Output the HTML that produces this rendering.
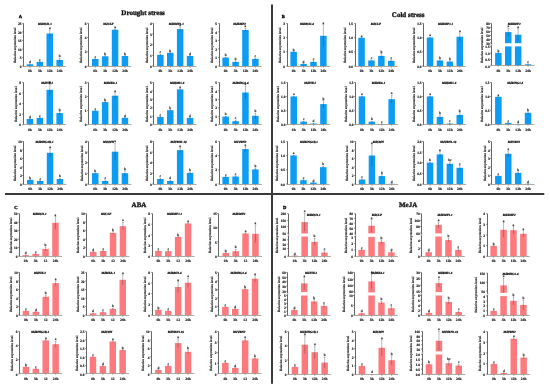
<!DOCTYPE html>
<html><head><meta charset="utf-8"><title>Expression</title>
<style>
html,body{margin:0;padding:0;background:#fff;}
svg{display:block;}
text{font-family:"Liberation Serif",serif;font-weight:bold;fill:#222;text-rendering:geometricPrecision;stroke:#222;stroke-width:0.12px;}
.tl{font-size:3.5px;text-anchor:end;stroke-width:0.16px;}
.xl{font-size:3.6px;text-anchor:middle;stroke-width:0.16px;}
.lt{font-size:3.4px;text-anchor:middle;}
.ti{font-size:3.1px;font-style:italic;text-anchor:middle;stroke-width:0.22px;fill:#111;stroke:#111;}
.yl{font-size:3.4px;text-anchor:middle;}
.hd{font-size:7px;text-anchor:middle;fill:#111;stroke:#111;stroke-width:0.32px;}
.pl{font-size:4.6px;fill:#000;stroke:#000;stroke-width:0.3px;}
</style></head><body>
<svg width="550" height="388" viewBox="0 0 550 388">
<rect width="550" height="388" fill="#fff"/>
<rect x="271" y="4.5" width="2" height="379.3" fill="#3a3a3a"/>
<rect x="5" y="193" width="539.3" height="2" fill="#3a3a3a"/>
<text x="143.1" y="15.4" class="hd">Drought stress</text>
<text x="408.2" y="16.8" class="hd">Cold stress</text>
<text x="139" y="207.2" class="hd">ABA</text>
<text x="408.1" y="207.1" class="hd">MeJA</text>
<text x="18.7" y="18.1" class="pl">A</text>
<text x="281.8" y="18.2" class="pl">B</text>
<text x="14.3" y="208.6" class="pl">C</text>
<text x="283" y="209.3" class="pl">D</text>
<rect x="26.7" y="64.3" width="6.5" height="1.7" fill="#0c9cf3"/>
<rect x="36.6" y="61.9" width="6.5" height="4.1" fill="#0c9cf3"/>
<rect x="46.5" y="33.5" width="6.5" height="32.5" fill="#0c9cf3"/>
<rect x="56.4" y="59.9" width="6.5" height="6.1" fill="#0c9cf3"/>
<path d="M29.95 63.8V64.8M29.05 63.8H30.85" stroke="#333" stroke-width="0.35" fill="none"/>
<path d="M39.85 61.3V62.5M38.95 61.3H40.75" stroke="#333" stroke-width="0.35" fill="none"/>
<path d="M49.75 29.7V37.3M48.85 29.7H50.65" stroke="#333" stroke-width="0.35" fill="none"/>
<path d="M59.65 58.1V61.7M58.75 58.1H60.55" stroke="#333" stroke-width="0.35" fill="none"/>
<path d="M23.5 66.5H66.1" stroke="#aaa098" stroke-width="0.9" fill="none"/>
<path d="M23.5 23.4V66.5" stroke="#555" stroke-width="0.9" fill="none"/>
<path d="M22 23.4H23.5" stroke="#555" stroke-width="0.6"/>
<path d="M22 31.92H23.5" stroke="#555" stroke-width="0.6"/>
<path d="M22 40.44H23.5" stroke="#555" stroke-width="0.6"/>
<path d="M22 48.96H23.5" stroke="#555" stroke-width="0.6"/>
<path d="M22 57.48H23.5" stroke="#555" stroke-width="0.6"/>
<path d="M22 66H23.5" stroke="#555" stroke-width="0.6"/>
<path d="M29.95 66.5V67.7" stroke="#444" stroke-width="0.5"/>
<path d="M39.85 66.5V67.7" stroke="#444" stroke-width="0.5"/>
<path d="M49.75 66.5V67.7" stroke="#444" stroke-width="0.5"/>
<path d="M59.65 66.5V67.7" stroke="#444" stroke-width="0.5"/>
<text x="21.4" y="25.05" class="tl">25</text>
<text x="21.4" y="33.57" class="tl">20</text>
<text x="21.4" y="42.09" class="tl">15</text>
<text x="21.4" y="50.61" class="tl">10</text>
<text x="21.4" y="59.13" class="tl">5</text>
<text x="21.4" y="67.65" class="tl">0</text>
<text x="29.95" y="71.7" class="xl">0h</text>
<text x="39.85" y="71.7" class="xl">3h</text>
<text x="49.75" y="71.7" class="xl">12h</text>
<text x="59.65" y="71.7" class="xl">24h</text>
<text x="29.95" y="63" class="lt">d</text>
<text x="39.85" y="60.5" class="lt">c</text>
<text x="49.75" y="28.9" class="lt">a</text>
<text x="59.65" y="57.3" class="lt">b</text>
<text x="44.8" y="25.2" class="ti">MdMSI1.1</text>
<text transform="translate(15.5 45.2) rotate(-90)" class="yl">Relative expression level</text>
<rect x="92" y="59" width="6.5" height="7" fill="#0c9cf3"/>
<rect x="101.9" y="56.3" width="6.5" height="9.7" fill="#0c9cf3"/>
<rect x="111.8" y="29.7" width="6.5" height="36.3" fill="#0c9cf3"/>
<rect x="121.7" y="56" width="6.5" height="10" fill="#0c9cf3"/>
<path d="M95.25 58.5V59.5M94.35 58.5H96.15" stroke="#333" stroke-width="0.35" fill="none"/>
<path d="M105.15 55.3V57.3M104.25 55.3H106.05" stroke="#333" stroke-width="0.35" fill="none"/>
<path d="M115.05 28.7V30.7M114.15 28.7H115.95" stroke="#333" stroke-width="0.35" fill="none"/>
<path d="M124.95 55.5V56.5M124.05 55.5H125.85" stroke="#333" stroke-width="0.35" fill="none"/>
<path d="M88.5 66.5H131.4" stroke="#aaa098" stroke-width="0.9" fill="none"/>
<path d="M88.5 23.4V66.5" stroke="#555" stroke-width="0.9" fill="none"/>
<path d="M87 23.4H88.5" stroke="#555" stroke-width="0.6"/>
<path d="M87 37.6H88.5" stroke="#555" stroke-width="0.6"/>
<path d="M87 51.8H88.5" stroke="#555" stroke-width="0.6"/>
<path d="M87 66H88.5" stroke="#555" stroke-width="0.6"/>
<path d="M95.25 66.5V67.7" stroke="#444" stroke-width="0.5"/>
<path d="M105.15 66.5V67.7" stroke="#444" stroke-width="0.5"/>
<path d="M115.05 66.5V67.7" stroke="#444" stroke-width="0.5"/>
<path d="M124.95 66.5V67.7" stroke="#444" stroke-width="0.5"/>
<text x="86.4" y="25.05" class="tl">6</text>
<text x="86.4" y="39.25" class="tl">4</text>
<text x="86.4" y="53.45" class="tl">2</text>
<text x="86.4" y="67.65" class="tl">0</text>
<text x="95.25" y="71.7" class="xl">0h</text>
<text x="105.15" y="71.7" class="xl">3h</text>
<text x="115.05" y="71.7" class="xl">12h</text>
<text x="124.95" y="71.7" class="xl">24h</text>
<text x="95.25" y="57.7" class="lt">c</text>
<text x="105.15" y="54.5" class="lt">b</text>
<text x="115.05" y="27.9" class="lt">a</text>
<text x="124.95" y="54.7" class="lt">b</text>
<text x="108.5" y="25.2" class="ti">MdCLF</text>
<text transform="translate(82.25 45.2) rotate(-90)" class="yl">Relative expression level</text>
<rect x="157.1" y="54.9" width="6.5" height="11.1" fill="#0c9cf3"/>
<rect x="167" y="52.8" width="6.5" height="13.2" fill="#0c9cf3"/>
<rect x="176.9" y="29.1" width="6.5" height="36.9" fill="#0c9cf3"/>
<rect x="186.8" y="56" width="6.5" height="10" fill="#0c9cf3"/>
<path d="M160.35 54.1V55.7M159.45 54.1H161.25" stroke="#333" stroke-width="0.35" fill="none"/>
<path d="M170.25 52.3V53.3M169.35 52.3H171.15" stroke="#333" stroke-width="0.35" fill="none"/>
<path d="M180.15 26.9V31.3M179.25 26.9H181.05" stroke="#333" stroke-width="0.35" fill="none"/>
<path d="M190.05 55.4V56.6M189.15 55.4H190.95" stroke="#333" stroke-width="0.35" fill="none"/>
<path d="M153.5 66.5H196.5" stroke="#aaa098" stroke-width="0.9" fill="none"/>
<path d="M153.5 23.4V66.5" stroke="#555" stroke-width="0.9" fill="none"/>
<path d="M152 23.4H153.5" stroke="#555" stroke-width="0.6"/>
<path d="M152 34.05H153.5" stroke="#555" stroke-width="0.6"/>
<path d="M152 44.7H153.5" stroke="#555" stroke-width="0.6"/>
<path d="M152 55.35H153.5" stroke="#555" stroke-width="0.6"/>
<path d="M152 66H153.5" stroke="#555" stroke-width="0.6"/>
<path d="M160.35 66.5V67.7" stroke="#444" stroke-width="0.5"/>
<path d="M170.25 66.5V67.7" stroke="#444" stroke-width="0.5"/>
<path d="M180.15 66.5V67.7" stroke="#444" stroke-width="0.5"/>
<path d="M190.05 66.5V67.7" stroke="#444" stroke-width="0.5"/>
<text x="151.7" y="25.05" class="tl">4</text>
<text x="151.7" y="35.7" class="tl">3</text>
<text x="151.7" y="46.35" class="tl">2</text>
<text x="151.7" y="57" class="tl">1</text>
<text x="151.7" y="67.65" class="tl">0</text>
<text x="160.35" y="71.7" class="xl">0h</text>
<text x="170.25" y="71.7" class="xl">3h</text>
<text x="180.15" y="71.7" class="xl">12h</text>
<text x="190.05" y="71.7" class="xl">24h</text>
<text x="160.35" y="53.3" class="lt">c</text>
<text x="170.25" y="51.5" class="lt">b</text>
<text x="180.15" y="26.1" class="lt">a</text>
<text x="190.05" y="54.6" class="lt">d</text>
<text x="176.2" y="25.2" class="ti">MdEMF1.1</text>
<text transform="translate(147.55 45.2) rotate(-90)" class="yl">Relative expression level</text>
<rect x="222.4" y="57.6" width="6.5" height="8.4" fill="#0c9cf3"/>
<rect x="232.3" y="61.9" width="6.5" height="4.1" fill="#0c9cf3"/>
<rect x="242.2" y="30" width="6.5" height="36" fill="#0c9cf3"/>
<rect x="252.1" y="58.9" width="6.5" height="7.1" fill="#0c9cf3"/>
<path d="M225.65 57V58.2M224.75 57H226.55" stroke="#333" stroke-width="0.35" fill="none"/>
<path d="M235.55 60.7V63.1M234.65 60.7H236.45" stroke="#333" stroke-width="0.35" fill="none"/>
<path d="M245.45 28V32M244.55 28H246.35" stroke="#333" stroke-width="0.35" fill="none"/>
<path d="M255.35 57.9V59.9M254.45 57.9H256.25" stroke="#333" stroke-width="0.35" fill="none"/>
<path d="M219.5 66.5H261.8" stroke="#aaa098" stroke-width="0.9" fill="none"/>
<path d="M219.5 23.4V66.5" stroke="#555" stroke-width="0.9" fill="none"/>
<path d="M218 23.4H219.5" stroke="#555" stroke-width="0.6"/>
<path d="M218 31.92H219.5" stroke="#555" stroke-width="0.6"/>
<path d="M218 40.44H219.5" stroke="#555" stroke-width="0.6"/>
<path d="M218 48.96H219.5" stroke="#555" stroke-width="0.6"/>
<path d="M218 57.48H219.5" stroke="#555" stroke-width="0.6"/>
<path d="M218 66H219.5" stroke="#555" stroke-width="0.6"/>
<path d="M225.65 66.5V67.7" stroke="#444" stroke-width="0.5"/>
<path d="M235.55 66.5V67.7" stroke="#444" stroke-width="0.5"/>
<path d="M245.45 66.5V67.7" stroke="#444" stroke-width="0.5"/>
<path d="M255.35 66.5V67.7" stroke="#444" stroke-width="0.5"/>
<text x="217.05" y="25.05" class="tl">5</text>
<text x="217.05" y="33.57" class="tl">4</text>
<text x="217.05" y="42.09" class="tl">3</text>
<text x="217.05" y="50.61" class="tl">2</text>
<text x="217.05" y="59.13" class="tl">1</text>
<text x="217.05" y="67.65" class="tl">0</text>
<text x="225.65" y="71.7" class="xl">0h</text>
<text x="235.55" y="71.7" class="xl">3h</text>
<text x="245.45" y="71.7" class="xl">12h</text>
<text x="255.35" y="71.7" class="xl">24h</text>
<text x="225.65" y="56.2" class="lt">b</text>
<text x="235.55" y="59.9" class="lt">d</text>
<text x="245.45" y="27.2" class="lt">a</text>
<text x="255.35" y="57.1" class="lt">c</text>
<text x="239.5" y="25.2" class="ti">MdEMF2</text>
<text transform="translate(212.9 45.2) rotate(-90)" class="yl">Relative expression level</text>
<rect x="26.7" y="118.9" width="6.5" height="5.9" fill="#0c9cf3"/>
<rect x="36.6" y="117.9" width="6.5" height="6.9" fill="#0c9cf3"/>
<rect x="46.5" y="89.8" width="6.5" height="35" fill="#0c9cf3"/>
<rect x="56.4" y="113.1" width="6.5" height="11.7" fill="#0c9cf3"/>
<path d="M29.95 118.4V119.4M29.05 118.4H30.85" stroke="#333" stroke-width="0.35" fill="none"/>
<path d="M39.85 117.3V118.5M38.95 117.3H40.75" stroke="#333" stroke-width="0.35" fill="none"/>
<path d="M49.75 84.1V95.5M48.85 84.1H50.65" stroke="#333" stroke-width="0.35" fill="none"/>
<path d="M59.65 111.3V114.9M58.75 111.3H60.55" stroke="#333" stroke-width="0.35" fill="none"/>
<path d="M23.5 124.5H66.1" stroke="#aaa098" stroke-width="0.9" fill="none"/>
<path d="M23.5 82.4V124.5" stroke="#555" stroke-width="0.9" fill="none"/>
<path d="M22 82.4H23.5" stroke="#555" stroke-width="0.6"/>
<path d="M22 93H23.5" stroke="#555" stroke-width="0.6"/>
<path d="M22 103.6H23.5" stroke="#555" stroke-width="0.6"/>
<path d="M22 114.2H23.5" stroke="#555" stroke-width="0.6"/>
<path d="M22 124.8H23.5" stroke="#555" stroke-width="0.6"/>
<path d="M29.95 124.5V125.7" stroke="#444" stroke-width="0.5"/>
<path d="M39.85 124.5V125.7" stroke="#444" stroke-width="0.5"/>
<path d="M49.75 124.5V125.7" stroke="#444" stroke-width="0.5"/>
<path d="M59.65 124.5V125.7" stroke="#444" stroke-width="0.5"/>
<text x="21" y="84.05" class="tl">8</text>
<text x="21" y="94.65" class="tl">6</text>
<text x="21" y="105.25" class="tl">4</text>
<text x="21" y="115.85" class="tl">2</text>
<text x="21" y="126.45" class="tl">0</text>
<text x="29.95" y="130.5" class="xl">0h</text>
<text x="39.85" y="130.5" class="xl">3h</text>
<text x="49.75" y="130.5" class="xl">12h</text>
<text x="59.65" y="130.5" class="xl">24h</text>
<text x="29.95" y="117.6" class="lt">d</text>
<text x="39.85" y="116.5" class="lt">c</text>
<text x="49.75" y="83.3" class="lt">a</text>
<text x="59.65" y="110.5" class="lt">b</text>
<text x="47.2" y="84.2" class="ti">MdFIE.2</text>
<text transform="translate(16.85 104.1) rotate(-90)" class="yl">Relative expression level</text>
<rect x="92" y="110.8" width="6.5" height="14" fill="#0c9cf3"/>
<rect x="101.9" y="102.1" width="6.5" height="22.7" fill="#0c9cf3"/>
<rect x="111.8" y="95.7" width="6.5" height="29.1" fill="#0c9cf3"/>
<rect x="121.7" y="117.8" width="6.5" height="7" fill="#0c9cf3"/>
<path d="M95.25 110.4V111.2M94.35 110.4H96.15" stroke="#333" stroke-width="0.35" fill="none"/>
<path d="M105.15 101.3V102.9M104.25 101.3H106.05" stroke="#333" stroke-width="0.35" fill="none"/>
<path d="M115.05 92.7V98.7M114.15 92.7H115.95" stroke="#333" stroke-width="0.35" fill="none"/>
<path d="M124.95 117.3V118.3M124.05 117.3H125.85" stroke="#333" stroke-width="0.35" fill="none"/>
<path d="M88.5 124.5H131.4" stroke="#aaa098" stroke-width="0.9" fill="none"/>
<path d="M88.5 82.4V124.5" stroke="#555" stroke-width="0.9" fill="none"/>
<path d="M87 82.4H88.5" stroke="#555" stroke-width="0.6"/>
<path d="M87 96.53H88.5" stroke="#555" stroke-width="0.6"/>
<path d="M87 110.67H88.5" stroke="#555" stroke-width="0.6"/>
<path d="M87 124.8H88.5" stroke="#555" stroke-width="0.6"/>
<path d="M95.25 124.5V125.7" stroke="#444" stroke-width="0.5"/>
<path d="M105.15 124.5V125.7" stroke="#444" stroke-width="0.5"/>
<path d="M115.05 124.5V125.7" stroke="#444" stroke-width="0.5"/>
<path d="M124.95 124.5V125.7" stroke="#444" stroke-width="0.5"/>
<text x="86.4" y="84.05" class="tl">3</text>
<text x="86.4" y="98.18" class="tl">2</text>
<text x="86.4" y="112.32" class="tl">1</text>
<text x="86.4" y="126.45" class="tl">0</text>
<text x="95.25" y="130.5" class="xl">0h</text>
<text x="105.15" y="130.5" class="xl">3h</text>
<text x="115.05" y="130.5" class="xl">12h</text>
<text x="124.95" y="130.5" class="xl">24h</text>
<text x="95.25" y="109.6" class="lt">c</text>
<text x="105.15" y="100.5" class="lt">b</text>
<text x="115.05" y="91.9" class="lt">a</text>
<text x="124.95" y="116.5" class="lt">d</text>
<text x="110.5" y="84.2" class="ti">MdMEA.1</text>
<text transform="translate(82.25 104.1) rotate(-90)" class="yl">Relative expression level</text>
<rect x="157.1" y="116.9" width="6.5" height="7.9" fill="#0c9cf3"/>
<rect x="167" y="110.2" width="6.5" height="14.6" fill="#0c9cf3"/>
<rect x="176.9" y="89.4" width="6.5" height="35.4" fill="#0c9cf3"/>
<rect x="186.8" y="117.9" width="6.5" height="6.9" fill="#0c9cf3"/>
<path d="M160.35 116.5V117.3M159.45 116.5H161.25" stroke="#333" stroke-width="0.35" fill="none"/>
<path d="M170.25 109.8V110.6M169.35 109.8H171.15" stroke="#333" stroke-width="0.35" fill="none"/>
<path d="M180.15 88.4V90.4M179.25 88.4H181.05" stroke="#333" stroke-width="0.35" fill="none"/>
<path d="M190.05 117.4V118.4M189.15 117.4H190.95" stroke="#333" stroke-width="0.35" fill="none"/>
<path d="M153.5 124.5H196.5" stroke="#aaa098" stroke-width="0.9" fill="none"/>
<path d="M153.5 82.4V124.5" stroke="#555" stroke-width="0.9" fill="none"/>
<path d="M152 82.4H153.5" stroke="#555" stroke-width="0.6"/>
<path d="M152 90.88H153.5" stroke="#555" stroke-width="0.6"/>
<path d="M152 99.36H153.5" stroke="#555" stroke-width="0.6"/>
<path d="M152 107.84H153.5" stroke="#555" stroke-width="0.6"/>
<path d="M152 116.32H153.5" stroke="#555" stroke-width="0.6"/>
<path d="M152 124.8H153.5" stroke="#555" stroke-width="0.6"/>
<path d="M160.35 124.5V125.7" stroke="#444" stroke-width="0.5"/>
<path d="M170.25 124.5V125.7" stroke="#444" stroke-width="0.5"/>
<path d="M180.15 124.5V125.7" stroke="#444" stroke-width="0.5"/>
<path d="M190.05 124.5V125.7" stroke="#444" stroke-width="0.5"/>
<text x="151.7" y="84.05" class="tl">5</text>
<text x="151.7" y="92.53" class="tl">4</text>
<text x="151.7" y="101.01" class="tl">3</text>
<text x="151.7" y="109.49" class="tl">2</text>
<text x="151.7" y="117.97" class="tl">1</text>
<text x="151.7" y="126.45" class="tl">0</text>
<text x="160.35" y="130.5" class="xl">0h</text>
<text x="170.25" y="130.5" class="xl">3h</text>
<text x="180.15" y="130.5" class="xl">12h</text>
<text x="190.05" y="130.5" class="xl">24h</text>
<text x="160.35" y="115.7" class="lt">c</text>
<text x="170.25" y="109" class="lt">b</text>
<text x="180.15" y="87.6" class="lt">a</text>
<text x="190.05" y="116.6" class="lt">d</text>
<text x="177.1" y="84.2" class="ti">MdBMI1.4</text>
<text transform="translate(147.55 104.1) rotate(-90)" class="yl">Relative expression level</text>
<rect x="222.4" y="116.6" width="6.5" height="8.2" fill="#0c9cf3"/>
<rect x="232.3" y="121.2" width="6.5" height="3.6" fill="#0c9cf3"/>
<rect x="242.2" y="92.5" width="6.5" height="32.3" fill="#0c9cf3"/>
<rect x="252.1" y="115.8" width="6.5" height="9" fill="#0c9cf3"/>
<path d="M225.65 116.2V117M224.75 116.2H226.55" stroke="#333" stroke-width="0.35" fill="none"/>
<path d="M235.55 120V122.4M234.65 120H236.45" stroke="#333" stroke-width="0.35" fill="none"/>
<path d="M245.45 86V99M244.55 86H246.35" stroke="#333" stroke-width="0.35" fill="none"/>
<path d="M255.35 113.1V118.5M254.45 113.1H256.25" stroke="#333" stroke-width="0.35" fill="none"/>
<path d="M219.5 124.5H261.8" stroke="#aaa098" stroke-width="0.9" fill="none"/>
<path d="M219.5 82.4V124.5" stroke="#555" stroke-width="0.9" fill="none"/>
<path d="M218 82.4H219.5" stroke="#555" stroke-width="0.6"/>
<path d="M218 90.88H219.5" stroke="#555" stroke-width="0.6"/>
<path d="M218 99.36H219.5" stroke="#555" stroke-width="0.6"/>
<path d="M218 107.84H219.5" stroke="#555" stroke-width="0.6"/>
<path d="M218 116.32H219.5" stroke="#555" stroke-width="0.6"/>
<path d="M218 124.8H219.5" stroke="#555" stroke-width="0.6"/>
<path d="M225.65 124.5V125.7" stroke="#444" stroke-width="0.5"/>
<path d="M235.55 124.5V125.7" stroke="#444" stroke-width="0.5"/>
<path d="M245.45 124.5V125.7" stroke="#444" stroke-width="0.5"/>
<path d="M255.35 124.5V125.7" stroke="#444" stroke-width="0.5"/>
<text x="217.05" y="84.05" class="tl">5</text>
<text x="217.05" y="92.53" class="tl">4</text>
<text x="217.05" y="101.01" class="tl">3</text>
<text x="217.05" y="109.49" class="tl">2</text>
<text x="217.05" y="117.97" class="tl">1</text>
<text x="217.05" y="126.45" class="tl">0</text>
<text x="225.65" y="130.5" class="xl">0h</text>
<text x="235.55" y="130.5" class="xl">3h</text>
<text x="245.45" y="130.5" class="xl">12h</text>
<text x="255.35" y="130.5" class="xl">24h</text>
<text x="225.65" y="115.4" class="lt">b</text>
<text x="235.55" y="119.2" class="lt">c</text>
<text x="245.45" y="85.2" class="lt">a</text>
<text x="255.35" y="112.3" class="lt">b</text>
<text x="240.5" y="84.2" class="ti">MdRING1.4</text>
<text transform="translate(212.9 104.1) rotate(-90)" class="yl">Relative expression level</text>
<rect x="27" y="179.9" width="6.5" height="4.1" fill="#0c9cf3"/>
<rect x="36.9" y="181" width="6.5" height="3" fill="#0c9cf3"/>
<rect x="46.8" y="152.8" width="6.5" height="31.2" fill="#0c9cf3"/>
<rect x="56.7" y="179" width="6.5" height="5" fill="#0c9cf3"/>
<path d="M30.25 179.5V180.3M29.35 179.5H31.15" stroke="#333" stroke-width="0.35" fill="none"/>
<path d="M40.15 180.5V181.5M39.25 180.5H41.05" stroke="#333" stroke-width="0.35" fill="none"/>
<path d="M50.05 148.8V156.8M49.15 148.8H50.95" stroke="#333" stroke-width="0.35" fill="none"/>
<path d="M59.95 178.2V179.8M59.05 178.2H60.85" stroke="#333" stroke-width="0.35" fill="none"/>
<path d="M23.5 184.5H66.4" stroke="#aaa098" stroke-width="0.9" fill="none"/>
<path d="M23.5 141.4V184.5" stroke="#555" stroke-width="0.9" fill="none"/>
<path d="M22 141.4H23.5" stroke="#555" stroke-width="0.6"/>
<path d="M22 149.92H23.5" stroke="#555" stroke-width="0.6"/>
<path d="M22 158.44H23.5" stroke="#555" stroke-width="0.6"/>
<path d="M22 166.96H23.5" stroke="#555" stroke-width="0.6"/>
<path d="M22 175.48H23.5" stroke="#555" stroke-width="0.6"/>
<path d="M22 184H23.5" stroke="#555" stroke-width="0.6"/>
<path d="M30.25 184.5V185.7" stroke="#444" stroke-width="0.5"/>
<path d="M40.15 184.5V185.7" stroke="#444" stroke-width="0.5"/>
<path d="M50.05 184.5V185.7" stroke="#444" stroke-width="0.5"/>
<path d="M59.95 184.5V185.7" stroke="#444" stroke-width="0.5"/>
<text x="21.8" y="143.05" class="tl">10</text>
<text x="21.8" y="151.57" class="tl">8</text>
<text x="21.8" y="160.09" class="tl">6</text>
<text x="21.8" y="168.61" class="tl">4</text>
<text x="21.8" y="177.13" class="tl">2</text>
<text x="21.8" y="185.65" class="tl">0</text>
<text x="30.25" y="189.7" class="xl">0h</text>
<text x="40.15" y="189.7" class="xl">3h</text>
<text x="50.05" y="189.7" class="xl">12h</text>
<text x="59.95" y="189.7" class="xl">24h</text>
<text x="30.25" y="178.7" class="lt">b</text>
<text x="40.15" y="179.7" class="lt">c</text>
<text x="50.05" y="148" class="lt">a</text>
<text x="59.95" y="177.4" class="lt">b</text>
<text x="44.5" y="143.2" class="ti">MdRING1B.1</text>
<text transform="translate(15.9 163.2) rotate(-90)" class="yl">Relative expression level</text>
<rect x="92" y="173.2" width="6.5" height="10.8" fill="#0c9cf3"/>
<rect x="101.9" y="181" width="6.5" height="3" fill="#0c9cf3"/>
<rect x="111.8" y="151.7" width="6.5" height="32.3" fill="#0c9cf3"/>
<rect x="121.7" y="173.2" width="6.5" height="10.8" fill="#0c9cf3"/>
<path d="M95.25 172.8V173.6M94.35 172.8H96.15" stroke="#333" stroke-width="0.35" fill="none"/>
<path d="M105.15 179.8V182.2M104.25 179.8H106.05" stroke="#333" stroke-width="0.35" fill="none"/>
<path d="M115.05 143V160.4M114.15 143H115.95" stroke="#333" stroke-width="0.35" fill="none"/>
<path d="M124.95 170.7V175.7M124.05 170.7H125.85" stroke="#333" stroke-width="0.35" fill="none"/>
<path d="M88.5 184.5H131.4" stroke="#aaa098" stroke-width="0.9" fill="none"/>
<path d="M88.5 141.4V184.5" stroke="#555" stroke-width="0.9" fill="none"/>
<path d="M87 141.4H88.5" stroke="#555" stroke-width="0.6"/>
<path d="M87 152.05H88.5" stroke="#555" stroke-width="0.6"/>
<path d="M87 162.7H88.5" stroke="#555" stroke-width="0.6"/>
<path d="M87 173.35H88.5" stroke="#555" stroke-width="0.6"/>
<path d="M87 184H88.5" stroke="#555" stroke-width="0.6"/>
<path d="M95.25 184.5V185.7" stroke="#444" stroke-width="0.5"/>
<path d="M105.15 184.5V185.7" stroke="#444" stroke-width="0.5"/>
<path d="M115.05 184.5V185.7" stroke="#444" stroke-width="0.5"/>
<path d="M124.95 184.5V185.7" stroke="#444" stroke-width="0.5"/>
<text x="86.8" y="143.05" class="tl">4</text>
<text x="86.8" y="153.7" class="tl">3</text>
<text x="86.8" y="164.35" class="tl">2</text>
<text x="86.8" y="175" class="tl">1</text>
<text x="86.8" y="185.65" class="tl">0</text>
<text x="95.25" y="189.7" class="xl">0h</text>
<text x="105.15" y="189.7" class="xl">3h</text>
<text x="115.05" y="189.7" class="xl">12h</text>
<text x="124.95" y="189.7" class="xl">24h</text>
<text x="95.25" y="172" class="lt">b</text>
<text x="105.15" y="179" class="lt">c</text>
<text x="115.05" y="142.2" class="lt">a</text>
<text x="124.95" y="169.9" class="lt">b</text>
<text x="108.5" y="143.2" class="ti">MdSWN</text>
<text transform="translate(82.65 163.2) rotate(-90)" class="yl">Relative expression level</text>
<rect x="157.1" y="179" width="6.5" height="5" fill="#0c9cf3"/>
<rect x="167" y="181" width="6.5" height="3" fill="#0c9cf3"/>
<rect x="176.9" y="150.1" width="6.5" height="33.9" fill="#0c9cf3"/>
<rect x="186.8" y="172.9" width="6.5" height="11.1" fill="#0c9cf3"/>
<path d="M160.35 178.2V179.8M159.45 178.2H161.25" stroke="#333" stroke-width="0.35" fill="none"/>
<path d="M170.25 180.1V181.9M169.35 180.1H171.15" stroke="#333" stroke-width="0.35" fill="none"/>
<path d="M180.15 147.6V152.6M179.25 147.6H181.05" stroke="#333" stroke-width="0.35" fill="none"/>
<path d="M190.05 171.9V173.9M189.15 171.9H190.95" stroke="#333" stroke-width="0.35" fill="none"/>
<path d="M153.5 184.5H196.5" stroke="#aaa098" stroke-width="0.9" fill="none"/>
<path d="M153.5 141.4V184.5" stroke="#555" stroke-width="0.9" fill="none"/>
<path d="M152 141.4H153.5" stroke="#555" stroke-width="0.6"/>
<path d="M152 152.05H153.5" stroke="#555" stroke-width="0.6"/>
<path d="M152 162.7H153.5" stroke="#555" stroke-width="0.6"/>
<path d="M152 173.35H153.5" stroke="#555" stroke-width="0.6"/>
<path d="M152 184H153.5" stroke="#555" stroke-width="0.6"/>
<path d="M160.35 184.5V185.7" stroke="#444" stroke-width="0.5"/>
<path d="M170.25 184.5V185.7" stroke="#444" stroke-width="0.5"/>
<path d="M180.15 184.5V185.7" stroke="#444" stroke-width="0.5"/>
<path d="M190.05 184.5V185.7" stroke="#444" stroke-width="0.5"/>
<text x="151.7" y="143.05" class="tl">8</text>
<text x="151.7" y="153.7" class="tl">6</text>
<text x="151.7" y="164.35" class="tl">4</text>
<text x="151.7" y="175" class="tl">2</text>
<text x="151.7" y="185.65" class="tl">0</text>
<text x="160.35" y="189.7" class="xl">0h</text>
<text x="170.25" y="189.7" class="xl">3h</text>
<text x="180.15" y="189.7" class="xl">12h</text>
<text x="190.05" y="189.7" class="xl">24h</text>
<text x="160.35" y="177.4" class="lt">c</text>
<text x="170.25" y="179.3" class="lt">d</text>
<text x="180.15" y="146.8" class="lt">a</text>
<text x="190.05" y="171.1" class="lt">b</text>
<text x="178.5" y="143.2" class="ti">MdVRN1.19</text>
<text transform="translate(147.55 163.2) rotate(-90)" class="yl">Relative expression level</text>
<rect x="222.4" y="176.9" width="6.5" height="7.1" fill="#0c9cf3"/>
<rect x="232.3" y="176.5" width="6.5" height="7.5" fill="#0c9cf3"/>
<rect x="242.2" y="149.1" width="6.5" height="34.9" fill="#0c9cf3"/>
<rect x="252.1" y="169.4" width="6.5" height="14.6" fill="#0c9cf3"/>
<path d="M225.65 176.3V177.5M224.75 176.3H226.55" stroke="#333" stroke-width="0.35" fill="none"/>
<path d="M235.55 175.7V177.3M234.65 175.7H236.45" stroke="#333" stroke-width="0.35" fill="none"/>
<path d="M245.45 146.6V151.6M244.55 146.6H246.35" stroke="#333" stroke-width="0.35" fill="none"/>
<path d="M255.35 167.9V170.9M254.45 167.9H256.25" stroke="#333" stroke-width="0.35" fill="none"/>
<path d="M219.5 184.5H261.8" stroke="#aaa098" stroke-width="0.9" fill="none"/>
<path d="M219.5 141.4V184.5" stroke="#555" stroke-width="0.9" fill="none"/>
<path d="M218 141.4H219.5" stroke="#555" stroke-width="0.6"/>
<path d="M218 155.6H219.5" stroke="#555" stroke-width="0.6"/>
<path d="M218 169.8H219.5" stroke="#555" stroke-width="0.6"/>
<path d="M218 184H219.5" stroke="#555" stroke-width="0.6"/>
<path d="M225.65 184.5V185.7" stroke="#444" stroke-width="0.5"/>
<path d="M235.55 184.5V185.7" stroke="#444" stroke-width="0.5"/>
<path d="M245.45 184.5V185.7" stroke="#444" stroke-width="0.5"/>
<path d="M255.35 184.5V185.7" stroke="#444" stroke-width="0.5"/>
<text x="217.05" y="143.05" class="tl">6</text>
<text x="217.05" y="157.25" class="tl">4</text>
<text x="217.05" y="171.45" class="tl">2</text>
<text x="217.05" y="185.65" class="tl">0</text>
<text x="225.65" y="189.7" class="xl">0h</text>
<text x="235.55" y="189.7" class="xl">3h</text>
<text x="245.45" y="189.7" class="xl">12h</text>
<text x="255.35" y="189.7" class="xl">24h</text>
<text x="225.65" y="175.5" class="lt">c</text>
<text x="235.55" y="174.9" class="lt">c</text>
<text x="245.45" y="145.8" class="lt">a</text>
<text x="255.35" y="167.1" class="lt">b</text>
<text x="240.2" y="143.2" class="ti">MdVRN2</text>
<text transform="translate(212.9 163.2) rotate(-90)" class="yl">Relative expression level</text>
<rect x="290.4" y="51.8" width="6.5" height="14.2" fill="#0c9cf3"/>
<rect x="300.3" y="63.9" width="6.5" height="2.1" fill="#0c9cf3"/>
<rect x="310.2" y="61.9" width="6.5" height="4.1" fill="#0c9cf3"/>
<rect x="320.1" y="35.8" width="6.5" height="30.2" fill="#0c9cf3"/>
<path d="M293.65 51.4V52.2M292.75 51.4H294.55" stroke="#333" stroke-width="0.35" fill="none"/>
<path d="M303.55 63.3V64.5M302.65 63.3H304.45" stroke="#333" stroke-width="0.35" fill="none"/>
<path d="M313.45 60.7V63.1M312.55 60.7H314.35" stroke="#333" stroke-width="0.35" fill="none"/>
<path d="M323.35 24.4V47.2M322.45 24.4H324.25" stroke="#333" stroke-width="0.35" fill="none"/>
<path d="M287.5 66.5H329.8" stroke="#aaa098" stroke-width="0.9" fill="none"/>
<path d="M287.5 23.4V66.5" stroke="#555" stroke-width="0.9" fill="none"/>
<path d="M286 23.4H287.5" stroke="#555" stroke-width="0.6"/>
<path d="M286 37.6H287.5" stroke="#555" stroke-width="0.6"/>
<path d="M286 51.8H287.5" stroke="#555" stroke-width="0.6"/>
<path d="M286 66H287.5" stroke="#555" stroke-width="0.6"/>
<path d="M293.65 66.5V67.7" stroke="#444" stroke-width="0.5"/>
<path d="M303.55 66.5V67.7" stroke="#444" stroke-width="0.5"/>
<path d="M313.45 66.5V67.7" stroke="#444" stroke-width="0.5"/>
<path d="M323.35 66.5V67.7" stroke="#444" stroke-width="0.5"/>
<text x="285.1" y="25.05" class="tl">3</text>
<text x="285.1" y="39.25" class="tl">2</text>
<text x="285.1" y="53.45" class="tl">1</text>
<text x="285.1" y="67.65" class="tl">0</text>
<text x="293.65" y="71.7" class="xl">0h</text>
<text x="303.55" y="71.7" class="xl">3h</text>
<text x="313.45" y="71.7" class="xl">12h</text>
<text x="323.35" y="71.7" class="xl">24h</text>
<text x="293.65" y="50.6" class="lt">b</text>
<text x="303.55" y="62.5" class="lt">d</text>
<text x="313.45" y="59.9" class="lt">c</text>
<text x="323.35" y="23.6" class="lt">a</text>
<text x="306.9" y="25.2" class="ti">MdMSI1.4</text>
<text transform="translate(280.95 45.2) rotate(-90)" class="yl">Relative expression level</text>
<rect x="358.3" y="37.8" width="6.5" height="28.2" fill="#0c9cf3"/>
<rect x="368.2" y="60.5" width="6.5" height="5.5" fill="#0c9cf3"/>
<rect x="378.1" y="55.9" width="6.5" height="10.1" fill="#0c9cf3"/>
<rect x="388" y="60.8" width="6.5" height="5.2" fill="#0c9cf3"/>
<path d="M361.55 37.4V38.2M360.65 37.4H362.45" stroke="#333" stroke-width="0.35" fill="none"/>
<path d="M371.45 60V61M370.55 60H372.35" stroke="#333" stroke-width="0.35" fill="none"/>
<path d="M381.35 53.4V58.4M380.45 53.4H382.25" stroke="#333" stroke-width="0.35" fill="none"/>
<path d="M391.25 59.6V62M390.35 59.6H392.15" stroke="#333" stroke-width="0.35" fill="none"/>
<path d="M355.5 66.5H397.7" stroke="#aaa098" stroke-width="0.9" fill="none"/>
<path d="M355.5 23.4V66.5" stroke="#555" stroke-width="0.9" fill="none"/>
<path d="M354 23.4H355.5" stroke="#555" stroke-width="0.6"/>
<path d="M354 37.6H355.5" stroke="#555" stroke-width="0.6"/>
<path d="M354 51.8H355.5" stroke="#555" stroke-width="0.6"/>
<path d="M354 66H355.5" stroke="#555" stroke-width="0.6"/>
<path d="M361.55 66.5V67.7" stroke="#444" stroke-width="0.5"/>
<path d="M371.45 66.5V67.7" stroke="#444" stroke-width="0.5"/>
<path d="M381.35 66.5V67.7" stroke="#444" stroke-width="0.5"/>
<path d="M391.25 66.5V67.7" stroke="#444" stroke-width="0.5"/>
<text x="353" y="25.05" class="tl">1.5</text>
<text x="353" y="39.25" class="tl">1.0</text>
<text x="353" y="53.45" class="tl">0.5</text>
<text x="353" y="67.65" class="tl">0.0</text>
<text x="361.55" y="71.7" class="xl">0h</text>
<text x="371.45" y="71.7" class="xl">3h</text>
<text x="381.35" y="71.7" class="xl">12h</text>
<text x="391.25" y="71.7" class="xl">24h</text>
<text x="361.55" y="36.6" class="lt">a</text>
<text x="371.45" y="59.2" class="lt">c</text>
<text x="381.35" y="52.6" class="lt">b</text>
<text x="391.25" y="58.8" class="lt">c</text>
<text x="375.9" y="25.2" class="ti">MdCLF</text>
<text transform="translate(346.22 45.2) rotate(-90)" class="yl">Relative expression level</text>
<rect x="426.8" y="37.5" width="6.5" height="28.5" fill="#0c9cf3"/>
<rect x="436.7" y="60.5" width="6.5" height="5.5" fill="#0c9cf3"/>
<rect x="446.6" y="61.6" width="6.5" height="4.4" fill="#0c9cf3"/>
<rect x="456.5" y="36.7" width="6.5" height="29.3" fill="#0c9cf3"/>
<path d="M430.05 37.1V37.9M429.15 37.1H430.95" stroke="#333" stroke-width="0.35" fill="none"/>
<path d="M439.95 59.9V61.1M439.05 59.9H440.85" stroke="#333" stroke-width="0.35" fill="none"/>
<path d="M449.85 60.8V62.4M448.95 60.8H450.75" stroke="#333" stroke-width="0.35" fill="none"/>
<path d="M459.75 32.7V40.7M458.85 32.7H460.65" stroke="#333" stroke-width="0.35" fill="none"/>
<path d="M423.5 66.5H466.2" stroke="#aaa098" stroke-width="0.9" fill="none"/>
<path d="M423.5 23.4V66.5" stroke="#555" stroke-width="0.9" fill="none"/>
<path d="M422 23.4H423.5" stroke="#555" stroke-width="0.6"/>
<path d="M422 37.6H423.5" stroke="#555" stroke-width="0.6"/>
<path d="M422 51.8H423.5" stroke="#555" stroke-width="0.6"/>
<path d="M422 66H423.5" stroke="#555" stroke-width="0.6"/>
<path d="M430.05 66.5V67.7" stroke="#444" stroke-width="0.5"/>
<path d="M439.95 66.5V67.7" stroke="#444" stroke-width="0.5"/>
<path d="M449.85 66.5V67.7" stroke="#444" stroke-width="0.5"/>
<path d="M459.75 66.5V67.7" stroke="#444" stroke-width="0.5"/>
<text x="421.5" y="25.05" class="tl">1.5</text>
<text x="421.5" y="39.25" class="tl">1.0</text>
<text x="421.5" y="53.45" class="tl">0.5</text>
<text x="421.5" y="67.65" class="tl">0.0</text>
<text x="430.05" y="71.7" class="xl">0h</text>
<text x="439.95" y="71.7" class="xl">3h</text>
<text x="449.85" y="71.7" class="xl">12h</text>
<text x="459.75" y="71.7" class="xl">24h</text>
<text x="430.05" y="36.3" class="lt">a</text>
<text x="439.95" y="59.1" class="lt">b</text>
<text x="449.85" y="60" class="lt">b</text>
<text x="459.75" y="31.9" class="lt">a</text>
<text x="445.5" y="25.2" class="ti">MdEMF1.1</text>
<text transform="translate(414.72 45.2) rotate(-90)" class="yl">Relative expression level</text>
<rect x="495.1" y="52.9" width="6.5" height="13" fill="#0c9cf3"/>
<rect x="505" y="32.1" width="6.5" height="33.8" fill="#0c9cf3"/>
<rect x="514.9" y="34.7" width="6.5" height="31.2" fill="#0c9cf3"/>
<rect x="524.8" y="64.3" width="6.5" height="1.6" fill="#0c9cf3"/>
<rect x="504.7" y="43.2" width="7.1" height="3.2" fill="#fff"/>
<rect x="514.6" y="43.2" width="7.1" height="3.2" fill="#fff"/>
<path d="M498.35 52.5V53.3M497.45 52.5H499.25" stroke="#333" stroke-width="0.35" fill="none"/>
<path d="M508.25 28.1V36.1M507.35 28.1H509.15" stroke="#333" stroke-width="0.35" fill="none"/>
<path d="M518.15 28.7V40.7M517.25 28.7H519.05" stroke="#333" stroke-width="0.35" fill="none"/>
<path d="M528.05 63.8V64.8M527.15 63.8H528.95" stroke="#333" stroke-width="0.35" fill="none"/>
<path d="M491.5 65.5H534.5" stroke="#aaa098" stroke-width="0.9" fill="none"/>
<path d="M491.5 23.4V65.5" stroke="#555" stroke-width="0.9" fill="none"/>
<path d="M490 23.4H491.5" stroke="#555" stroke-width="0.6"/>
<path d="M490 27.3H491.5" stroke="#555" stroke-width="0.6"/>
<path d="M490 31.4H491.5" stroke="#555" stroke-width="0.6"/>
<path d="M490 35.5H491.5" stroke="#555" stroke-width="0.6"/>
<path d="M490 39.5H491.5" stroke="#555" stroke-width="0.6"/>
<path d="M490 43H491.5" stroke="#555" stroke-width="0.6"/>
<path d="M490 46.7H491.5" stroke="#555" stroke-width="0.6"/>
<path d="M490 53.1H491.5" stroke="#555" stroke-width="0.6"/>
<path d="M490 59.5H491.5" stroke="#555" stroke-width="0.6"/>
<path d="M490 65.9H491.5" stroke="#555" stroke-width="0.6"/>
<path d="M498.35 65.5V66.7" stroke="#444" stroke-width="0.5"/>
<path d="M508.25 65.5V66.7" stroke="#444" stroke-width="0.5"/>
<path d="M518.15 65.5V66.7" stroke="#444" stroke-width="0.5"/>
<path d="M528.05 65.5V66.7" stroke="#444" stroke-width="0.5"/>
<rect x="490.5" y="44.2" width="2" height="1.2" fill="#fff"/>
<path d="M490.6 44.6L492.4 43.6M490.6 46L492.4 45" stroke="#555" stroke-width="0.4"/>
<text x="489.7" y="25.05" class="tl">80</text>
<text x="489.7" y="28.95" class="tl">70</text>
<text x="489.7" y="33.05" class="tl">60</text>
<text x="489.7" y="37.15" class="tl">50</text>
<text x="489.7" y="41.15" class="tl">40</text>
<text x="489.7" y="44.65" class="tl">30</text>
<text x="489.7" y="48.35" class="tl">1.5</text>
<text x="489.7" y="54.75" class="tl">1.0</text>
<text x="489.7" y="61.15" class="tl">0.5</text>
<text x="489.7" y="67.55" class="tl">0.0</text>
<text x="498.35" y="71.6" class="xl">0h</text>
<text x="508.25" y="71.6" class="xl">3h</text>
<text x="518.15" y="71.6" class="xl">12h</text>
<text x="528.05" y="71.6" class="xl">24h</text>
<text x="498.35" y="51.7" class="lt">b</text>
<text x="508.25" y="27.3" class="lt">a</text>
<text x="518.15" y="27.9" class="lt">a</text>
<text x="528.05" y="63" class="lt">c</text>
<text x="514.1" y="25.2" class="ti">MdEMF2</text>
<text transform="translate(482.92 45.15) rotate(-90)" class="yl">Relative expression level</text>
<rect x="290.5" y="96.5" width="6.5" height="28.3" fill="#0c9cf3"/>
<rect x="300.4" y="121.6" width="6.5" height="3.2" fill="#0c9cf3"/>
<rect x="310.3" y="123.6" width="6.5" height="1.2" fill="#0c9cf3"/>
<rect x="320.2" y="104.1" width="6.5" height="20.7" fill="#0c9cf3"/>
<path d="M293.75 96.1V96.9M292.85 96.1H294.65" stroke="#333" stroke-width="0.35" fill="none"/>
<path d="M303.65 121.1V122.1M302.75 121.1H304.55" stroke="#333" stroke-width="0.35" fill="none"/>
<path d="M313.55 123.2V124M312.65 123.2H314.45" stroke="#333" stroke-width="0.35" fill="none"/>
<path d="M323.45 100.6V107.6M322.55 100.6H324.35" stroke="#333" stroke-width="0.35" fill="none"/>
<path d="M287.5 124.5H329.9" stroke="#aaa098" stroke-width="0.9" fill="none"/>
<path d="M287.5 82.4V124.5" stroke="#555" stroke-width="0.9" fill="none"/>
<path d="M286 82.4H287.5" stroke="#555" stroke-width="0.6"/>
<path d="M286 96.53H287.5" stroke="#555" stroke-width="0.6"/>
<path d="M286 110.67H287.5" stroke="#555" stroke-width="0.6"/>
<path d="M286 124.8H287.5" stroke="#555" stroke-width="0.6"/>
<path d="M293.75 124.5V125.7" stroke="#444" stroke-width="0.5"/>
<path d="M303.65 124.5V125.7" stroke="#444" stroke-width="0.5"/>
<path d="M313.55 124.5V125.7" stroke="#444" stroke-width="0.5"/>
<path d="M323.45 124.5V125.7" stroke="#444" stroke-width="0.5"/>
<text x="285.4" y="84.05" class="tl">1.5</text>
<text x="285.4" y="98.18" class="tl">1.0</text>
<text x="285.4" y="112.32" class="tl">0.5</text>
<text x="285.4" y="126.45" class="tl">0.0</text>
<text x="293.75" y="130.5" class="xl">0h</text>
<text x="303.65" y="130.5" class="xl">3h</text>
<text x="313.55" y="130.5" class="xl">12h</text>
<text x="323.45" y="130.5" class="xl">24h</text>
<text x="293.75" y="95.3" class="lt">a</text>
<text x="303.65" y="120.3" class="lt">c</text>
<text x="313.55" y="122.4" class="lt">d</text>
<text x="323.45" y="99.8" class="lt">b</text>
<text x="310.2" y="84.2" class="ti">MdFIE.2</text>
<text transform="translate(278.62 104.1) rotate(-90)" class="yl">Relative expression level</text>
<rect x="358.7" y="96.4" width="6.5" height="28.4" fill="#0c9cf3"/>
<rect x="368.6" y="121.7" width="6.5" height="3.1" fill="#0c9cf3"/>
<rect x="378.5" y="124" width="6.5" height="0.8" fill="#0c9cf3"/>
<rect x="388.4" y="99.2" width="6.5" height="25.6" fill="#0c9cf3"/>
<path d="M361.95 96V96.8M361.05 96H362.85" stroke="#333" stroke-width="0.35" fill="none"/>
<path d="M371.85 121.2V122.2M370.95 121.2H372.75" stroke="#333" stroke-width="0.35" fill="none"/>
<path d="M381.75 123.7V124.3M380.85 123.7H382.65" stroke="#333" stroke-width="0.35" fill="none"/>
<path d="M391.65 95.2V103.2M390.75 95.2H392.55" stroke="#333" stroke-width="0.35" fill="none"/>
<path d="M355.5 124.5H398.1" stroke="#aaa098" stroke-width="0.9" fill="none"/>
<path d="M355.5 82.4V124.5" stroke="#555" stroke-width="0.9" fill="none"/>
<path d="M354 82.4H355.5" stroke="#555" stroke-width="0.6"/>
<path d="M354 96.53H355.5" stroke="#555" stroke-width="0.6"/>
<path d="M354 110.67H355.5" stroke="#555" stroke-width="0.6"/>
<path d="M354 124.8H355.5" stroke="#555" stroke-width="0.6"/>
<path d="M361.95 124.5V125.7" stroke="#444" stroke-width="0.5"/>
<path d="M371.85 124.5V125.7" stroke="#444" stroke-width="0.5"/>
<path d="M381.75 124.5V125.7" stroke="#444" stroke-width="0.5"/>
<path d="M391.65 124.5V125.7" stroke="#444" stroke-width="0.5"/>
<text x="353.5" y="84.05" class="tl">1.5</text>
<text x="353.5" y="98.18" class="tl">1.0</text>
<text x="353.5" y="112.32" class="tl">0.5</text>
<text x="353.5" y="126.45" class="tl">0.0</text>
<text x="361.95" y="130.5" class="xl">0h</text>
<text x="371.85" y="130.5" class="xl">3h</text>
<text x="381.75" y="130.5" class="xl">12h</text>
<text x="391.65" y="130.5" class="xl">24h</text>
<text x="361.95" y="95.2" class="lt">a</text>
<text x="371.85" y="120.4" class="lt">b</text>
<text x="381.75" y="122.9" class="lt">c</text>
<text x="391.65" y="94.4" class="lt">a</text>
<text x="378.5" y="84.2" class="ti">MdMEA.1</text>
<text transform="translate(346.72 104.1) rotate(-90)" class="yl">Relative expression level</text>
<rect x="426.8" y="96.4" width="6.5" height="28.4" fill="#0c9cf3"/>
<rect x="436.7" y="116.9" width="6.5" height="7.9" fill="#0c9cf3"/>
<rect x="446.6" y="123.6" width="6.5" height="1.2" fill="#0c9cf3"/>
<rect x="456.5" y="114.9" width="6.5" height="9.9" fill="#0c9cf3"/>
<path d="M430.05 96V96.8M429.15 96H430.95" stroke="#333" stroke-width="0.35" fill="none"/>
<path d="M439.95 114.9V118.9M439.05 114.9H440.85" stroke="#333" stroke-width="0.35" fill="none"/>
<path d="M449.85 123.2V124M448.95 123.2H450.75" stroke="#333" stroke-width="0.35" fill="none"/>
<path d="M459.75 112.4V117.4M458.85 112.4H460.65" stroke="#333" stroke-width="0.35" fill="none"/>
<path d="M423.5 124.5H466.2" stroke="#aaa098" stroke-width="0.9" fill="none"/>
<path d="M423.5 82.4V124.5" stroke="#555" stroke-width="0.9" fill="none"/>
<path d="M422 82.4H423.5" stroke="#555" stroke-width="0.6"/>
<path d="M422 96.53H423.5" stroke="#555" stroke-width="0.6"/>
<path d="M422 110.67H423.5" stroke="#555" stroke-width="0.6"/>
<path d="M422 124.8H423.5" stroke="#555" stroke-width="0.6"/>
<path d="M430.05 124.5V125.7" stroke="#444" stroke-width="0.5"/>
<path d="M439.95 124.5V125.7" stroke="#444" stroke-width="0.5"/>
<path d="M449.85 124.5V125.7" stroke="#444" stroke-width="0.5"/>
<path d="M459.75 124.5V125.7" stroke="#444" stroke-width="0.5"/>
<text x="421.5" y="84.05" class="tl">1.5</text>
<text x="421.5" y="98.18" class="tl">1.0</text>
<text x="421.5" y="112.32" class="tl">0.5</text>
<text x="421.5" y="126.45" class="tl">0.0</text>
<text x="430.05" y="130.5" class="xl">0h</text>
<text x="439.95" y="130.5" class="xl">3h</text>
<text x="449.85" y="130.5" class="xl">12h</text>
<text x="459.75" y="130.5" class="xl">24h</text>
<text x="430.05" y="95.2" class="lt">a</text>
<text x="439.95" y="114.1" class="lt">b</text>
<text x="449.85" y="122.4" class="lt">c</text>
<text x="459.75" y="111.6" class="lt">b</text>
<text x="449.1" y="84.2" class="ti">MdBMI1.4</text>
<text transform="translate(414.72 104.1) rotate(-90)" class="yl">Relative expression level</text>
<rect x="495.1" y="96.8" width="6.5" height="28" fill="#0c9cf3"/>
<rect x="505" y="122.9" width="6.5" height="1.9" fill="#0c9cf3"/>
<rect x="514.9" y="124" width="6.5" height="0.8" fill="#0c9cf3"/>
<rect x="524.8" y="112.8" width="6.5" height="12" fill="#0c9cf3"/>
<path d="M498.35 96.4V97.2M497.45 96.4H499.25" stroke="#333" stroke-width="0.35" fill="none"/>
<path d="M508.25 122.4V123.4M507.35 122.4H509.15" stroke="#333" stroke-width="0.35" fill="none"/>
<path d="M518.15 123.7V124.3M517.25 123.7H519.05" stroke="#333" stroke-width="0.35" fill="none"/>
<path d="M528.05 111.3V114.3M527.15 111.3H528.95" stroke="#333" stroke-width="0.35" fill="none"/>
<path d="M491.5 124.5H534.5" stroke="#aaa098" stroke-width="0.9" fill="none"/>
<path d="M491.5 82.4V124.5" stroke="#555" stroke-width="0.9" fill="none"/>
<path d="M490 82.4H491.5" stroke="#555" stroke-width="0.6"/>
<path d="M490 96.53H491.5" stroke="#555" stroke-width="0.6"/>
<path d="M490 110.67H491.5" stroke="#555" stroke-width="0.6"/>
<path d="M490 124.8H491.5" stroke="#555" stroke-width="0.6"/>
<path d="M498.35 124.5V125.7" stroke="#444" stroke-width="0.5"/>
<path d="M508.25 124.5V125.7" stroke="#444" stroke-width="0.5"/>
<path d="M518.15 124.5V125.7" stroke="#444" stroke-width="0.5"/>
<path d="M528.05 124.5V125.7" stroke="#444" stroke-width="0.5"/>
<text x="489.5" y="84.05" class="tl">1.5</text>
<text x="489.5" y="98.18" class="tl">1.0</text>
<text x="489.5" y="112.32" class="tl">0.5</text>
<text x="489.5" y="126.45" class="tl">0.0</text>
<text x="498.35" y="130.5" class="xl">0h</text>
<text x="508.25" y="130.5" class="xl">3h</text>
<text x="518.15" y="130.5" class="xl">12h</text>
<text x="528.05" y="130.5" class="xl">24h</text>
<text x="498.35" y="95.6" class="lt">a</text>
<text x="508.25" y="121.6" class="lt">c</text>
<text x="518.15" y="122.9" class="lt">d</text>
<text x="528.05" y="110.5" class="lt">b</text>
<text x="515.1" y="84.2" class="ti">MdRING1.4</text>
<text transform="translate(482.72 104.1) rotate(-90)" class="yl">Relative expression level</text>
<rect x="290.3" y="155.5" width="6.5" height="28.5" fill="#0c9cf3"/>
<rect x="300.2" y="180.2" width="6.5" height="3.8" fill="#0c9cf3"/>
<rect x="310.1" y="182.6" width="6.5" height="1.4" fill="#0c9cf3"/>
<rect x="320" y="167.2" width="6.5" height="16.8" fill="#0c9cf3"/>
<path d="M293.55 155.1V155.9M292.65 155.1H294.45" stroke="#333" stroke-width="0.35" fill="none"/>
<path d="M303.45 179.6V180.8M302.55 179.6H304.35" stroke="#333" stroke-width="0.35" fill="none"/>
<path d="M313.35 182.3V182.9M312.45 182.3H314.25" stroke="#333" stroke-width="0.35" fill="none"/>
<path d="M323.25 166.2V168.2M322.35 166.2H324.15" stroke="#333" stroke-width="0.35" fill="none"/>
<path d="M287.5 184.5H329.7" stroke="#aaa098" stroke-width="0.9" fill="none"/>
<path d="M287.5 141.4V184.5" stroke="#555" stroke-width="0.9" fill="none"/>
<path d="M286 141.4H287.5" stroke="#555" stroke-width="0.6"/>
<path d="M286 155.6H287.5" stroke="#555" stroke-width="0.6"/>
<path d="M286 169.8H287.5" stroke="#555" stroke-width="0.6"/>
<path d="M286 184H287.5" stroke="#555" stroke-width="0.6"/>
<path d="M293.55 184.5V185.7" stroke="#444" stroke-width="0.5"/>
<path d="M303.45 184.5V185.7" stroke="#444" stroke-width="0.5"/>
<path d="M313.35 184.5V185.7" stroke="#444" stroke-width="0.5"/>
<path d="M323.25 184.5V185.7" stroke="#444" stroke-width="0.5"/>
<text x="285" y="143.05" class="tl">1.5</text>
<text x="285" y="157.25" class="tl">1.0</text>
<text x="285" y="171.45" class="tl">0.5</text>
<text x="285" y="185.65" class="tl">0.0</text>
<text x="293.55" y="189.7" class="xl">0h</text>
<text x="303.45" y="189.7" class="xl">3h</text>
<text x="313.35" y="189.7" class="xl">12h</text>
<text x="323.25" y="189.7" class="xl">24h</text>
<text x="293.55" y="154.3" class="lt">a</text>
<text x="303.45" y="178.8" class="lt">c</text>
<text x="313.35" y="181.5" class="lt">d</text>
<text x="323.25" y="165.4" class="lt">b</text>
<text x="308.9" y="143.2" class="ti">MdRING1B.1</text>
<text transform="translate(278.22 163.2) rotate(-90)" class="yl">Relative expression level</text>
<rect x="358.8" y="179.6" width="6.5" height="4.4" fill="#0c9cf3"/>
<rect x="368.7" y="155.5" width="6.5" height="28.5" fill="#0c9cf3"/>
<rect x="378.6" y="176.1" width="6.5" height="7.9" fill="#0c9cf3"/>
<rect x="388.5" y="183.8" width="6.5" height="0.2" fill="#0c9cf3"/>
<path d="M362.05 179V180.2M361.15 179H362.95" stroke="#333" stroke-width="0.35" fill="none"/>
<path d="M371.95 144.8V166.2M371.05 144.8H372.85" stroke="#333" stroke-width="0.35" fill="none"/>
<path d="M381.85 174.6V177.6M380.95 174.6H382.75" stroke="#333" stroke-width="0.35" fill="none"/>
<path d="M391.75 183.6V184M390.85 183.6H392.65" stroke="#333" stroke-width="0.35" fill="none"/>
<path d="M355.5 184.5H398.2" stroke="#aaa098" stroke-width="0.9" fill="none"/>
<path d="M355.5 141.4V184.5" stroke="#555" stroke-width="0.9" fill="none"/>
<path d="M354 141.4H355.5" stroke="#555" stroke-width="0.6"/>
<path d="M354 149.92H355.5" stroke="#555" stroke-width="0.6"/>
<path d="M354 158.44H355.5" stroke="#555" stroke-width="0.6"/>
<path d="M354 166.96H355.5" stroke="#555" stroke-width="0.6"/>
<path d="M354 175.48H355.5" stroke="#555" stroke-width="0.6"/>
<path d="M354 184H355.5" stroke="#555" stroke-width="0.6"/>
<path d="M362.05 184.5V185.7" stroke="#444" stroke-width="0.5"/>
<path d="M371.95 184.5V185.7" stroke="#444" stroke-width="0.5"/>
<path d="M381.85 184.5V185.7" stroke="#444" stroke-width="0.5"/>
<path d="M391.75 184.5V185.7" stroke="#444" stroke-width="0.5"/>
<text x="353.5" y="143.05" class="tl">10</text>
<text x="353.5" y="151.57" class="tl">8</text>
<text x="353.5" y="160.09" class="tl">6</text>
<text x="353.5" y="168.61" class="tl">4</text>
<text x="353.5" y="177.13" class="tl">2</text>
<text x="353.5" y="185.65" class="tl">0</text>
<text x="362.05" y="189.7" class="xl">0h</text>
<text x="371.95" y="189.7" class="xl">3h</text>
<text x="381.85" y="189.7" class="xl">12h</text>
<text x="391.75" y="189.7" class="xl">24h</text>
<text x="362.05" y="178.2" class="lt">c</text>
<text x="371.95" y="144" class="lt">a</text>
<text x="381.85" y="173.8" class="lt">b</text>
<text x="391.75" y="182.8" class="lt">d</text>
<text x="378.2" y="143.2" class="ti">MdSWN</text>
<text transform="translate(347.6 163.2) rotate(-90)" class="yl">Relative expression level</text>
<rect x="426.8" y="162.7" width="6.5" height="21.3" fill="#0c9cf3"/>
<rect x="436.7" y="154.4" width="6.5" height="29.6" fill="#0c9cf3"/>
<rect x="446.6" y="163.8" width="6.5" height="20.2" fill="#0c9cf3"/>
<rect x="456.5" y="167.8" width="6.5" height="16.2" fill="#0c9cf3"/>
<path d="M430.05 162.1V163.3M429.15 162.1H430.95" stroke="#333" stroke-width="0.35" fill="none"/>
<path d="M439.95 151.4V157.4M439.05 151.4H440.85" stroke="#333" stroke-width="0.35" fill="none"/>
<path d="M449.85 161.8V165.8M448.95 161.8H450.75" stroke="#333" stroke-width="0.35" fill="none"/>
<path d="M459.75 165.3V170.3M458.85 165.3H460.65" stroke="#333" stroke-width="0.35" fill="none"/>
<path d="M423.5 184.5H466.2" stroke="#aaa098" stroke-width="0.9" fill="none"/>
<path d="M423.5 141.4V184.5" stroke="#555" stroke-width="0.9" fill="none"/>
<path d="M422 141.4H423.5" stroke="#555" stroke-width="0.6"/>
<path d="M422 152.05H423.5" stroke="#555" stroke-width="0.6"/>
<path d="M422 162.7H423.5" stroke="#555" stroke-width="0.6"/>
<path d="M422 173.35H423.5" stroke="#555" stroke-width="0.6"/>
<path d="M422 184H423.5" stroke="#555" stroke-width="0.6"/>
<path d="M430.05 184.5V185.7" stroke="#444" stroke-width="0.5"/>
<path d="M439.95 184.5V185.7" stroke="#444" stroke-width="0.5"/>
<path d="M449.85 184.5V185.7" stroke="#444" stroke-width="0.5"/>
<path d="M459.75 184.5V185.7" stroke="#444" stroke-width="0.5"/>
<text x="421.5" y="143.05" class="tl">2.0</text>
<text x="421.5" y="153.7" class="tl">1.5</text>
<text x="421.5" y="164.35" class="tl">1.0</text>
<text x="421.5" y="175" class="tl">0.5</text>
<text x="421.5" y="185.65" class="tl">0.0</text>
<text x="430.05" y="189.7" class="xl">0h</text>
<text x="439.95" y="189.7" class="xl">3h</text>
<text x="449.85" y="189.7" class="xl">12h</text>
<text x="459.75" y="189.7" class="xl">24h</text>
<text x="430.05" y="161.3" class="lt">b</text>
<text x="439.95" y="150.6" class="lt">a</text>
<text x="449.85" y="161" class="lt">bc</text>
<text x="459.75" y="164.5" class="lt">c</text>
<text x="448.2" y="143.2" class="ti">MdVRN1.19</text>
<text transform="translate(414.72 163.2) rotate(-90)" class="yl">Relative expression level</text>
<rect x="495.1" y="175.9" width="6.5" height="8.1" fill="#0c9cf3"/>
<rect x="505" y="153.8" width="6.5" height="30.2" fill="#0c9cf3"/>
<rect x="514.9" y="172.9" width="6.5" height="11.1" fill="#0c9cf3"/>
<rect x="524.8" y="183.8" width="6.5" height="0.2" fill="#0c9cf3"/>
<path d="M498.35 175.3V176.5M497.45 175.3H499.25" stroke="#333" stroke-width="0.35" fill="none"/>
<path d="M508.25 150.8V156.8M507.35 150.8H509.15" stroke="#333" stroke-width="0.35" fill="none"/>
<path d="M518.15 171.9V173.9M517.25 171.9H519.05" stroke="#333" stroke-width="0.35" fill="none"/>
<path d="M528.05 183.6V184M527.15 183.6H528.95" stroke="#333" stroke-width="0.35" fill="none"/>
<path d="M491.5 184.5H534.5" stroke="#aaa098" stroke-width="0.9" fill="none"/>
<path d="M491.5 141.4V184.5" stroke="#555" stroke-width="0.9" fill="none"/>
<path d="M490 141.4H491.5" stroke="#555" stroke-width="0.6"/>
<path d="M490 149.92H491.5" stroke="#555" stroke-width="0.6"/>
<path d="M490 158.44H491.5" stroke="#555" stroke-width="0.6"/>
<path d="M490 166.96H491.5" stroke="#555" stroke-width="0.6"/>
<path d="M490 175.48H491.5" stroke="#555" stroke-width="0.6"/>
<path d="M490 184H491.5" stroke="#555" stroke-width="0.6"/>
<path d="M498.35 184.5V185.7" stroke="#444" stroke-width="0.5"/>
<path d="M508.25 184.5V185.7" stroke="#444" stroke-width="0.5"/>
<path d="M518.15 184.5V185.7" stroke="#444" stroke-width="0.5"/>
<path d="M528.05 184.5V185.7" stroke="#444" stroke-width="0.5"/>
<text x="489.7" y="143.05" class="tl">5</text>
<text x="489.7" y="151.57" class="tl">4</text>
<text x="489.7" y="160.09" class="tl">3</text>
<text x="489.7" y="168.61" class="tl">2</text>
<text x="489.7" y="177.13" class="tl">1</text>
<text x="489.7" y="185.65" class="tl">0</text>
<text x="498.35" y="189.7" class="xl">0h</text>
<text x="508.25" y="189.7" class="xl">3h</text>
<text x="518.15" y="189.7" class="xl">12h</text>
<text x="528.05" y="189.7" class="xl">24h</text>
<text x="498.35" y="174.5" class="lt">c</text>
<text x="508.25" y="150" class="lt">a</text>
<text x="518.15" y="171.1" class="lt">b</text>
<text x="528.05" y="182.8" class="lt">d</text>
<text x="513.9" y="143.2" class="ti">MdVRN2</text>
<text transform="translate(485.55 163.2) rotate(-90)" class="yl">Relative expression level</text>
<rect x="22.5" y="255.2" width="6.5" height="0.9" fill="#fc7a7e"/>
<rect x="32.4" y="253.9" width="6.5" height="2.2" fill="#fc7a7e"/>
<rect x="42.3" y="248.9" width="6.5" height="7.2" fill="#fc7a7e"/>
<rect x="52.2" y="222.8" width="6.5" height="33.3" fill="#fc7a7e"/>
<path d="M25.75 254.9V255.5M24.85 254.9H26.65" stroke="#333" stroke-width="0.35" fill="none"/>
<path d="M35.65 253.3V254.5M34.75 253.3H36.55" stroke="#333" stroke-width="0.35" fill="none"/>
<path d="M45.55 246.9V250.9M44.65 246.9H46.45" stroke="#333" stroke-width="0.35" fill="none"/>
<path d="M55.45 216.4V229.2M54.55 216.4H56.35" stroke="#333" stroke-width="0.35" fill="none"/>
<path d="M19.5 256.5H61.9" stroke="#aaa098" stroke-width="0.9" fill="none"/>
<path d="M19.5 213.6V256.5" stroke="#555" stroke-width="0.9" fill="none"/>
<path d="M18 213.6H19.5" stroke="#555" stroke-width="0.6"/>
<path d="M18 222.1H19.5" stroke="#555" stroke-width="0.6"/>
<path d="M18 230.6H19.5" stroke="#555" stroke-width="0.6"/>
<path d="M18 239.1H19.5" stroke="#555" stroke-width="0.6"/>
<path d="M18 247.6H19.5" stroke="#555" stroke-width="0.6"/>
<path d="M18 256.1H19.5" stroke="#555" stroke-width="0.6"/>
<path d="M25.75 256.5V257.7" stroke="#444" stroke-width="0.5"/>
<path d="M35.65 256.5V257.7" stroke="#444" stroke-width="0.5"/>
<path d="M45.55 256.5V257.7" stroke="#444" stroke-width="0.5"/>
<path d="M55.45 256.5V257.7" stroke="#444" stroke-width="0.5"/>
<text x="17.4" y="215.25" class="tl">50</text>
<text x="17.4" y="223.75" class="tl">40</text>
<text x="17.4" y="232.25" class="tl">30</text>
<text x="17.4" y="240.75" class="tl">20</text>
<text x="17.4" y="249.25" class="tl">10</text>
<text x="17.4" y="257.75" class="tl">0</text>
<text x="25.75" y="261.8" class="xl">0h</text>
<text x="35.65" y="261.8" class="xl">3h</text>
<text x="45.55" y="261.8" class="xl">12</text>
<text x="55.45" y="261.8" class="xl">24h</text>
<text x="25.75" y="254.1" class="lt">d</text>
<text x="35.65" y="252.5" class="lt">c</text>
<text x="45.55" y="246.1" class="lt">b</text>
<text x="55.45" y="215.6" class="lt">a</text>
<text x="39.6" y="215.4" class="ti">MdMSI1.1</text>
<text transform="translate(11.5 235.35) rotate(-90)" class="yl">Relative expression level</text>
<rect x="90" y="251.9" width="6.5" height="4.2" fill="#fc7a7e"/>
<rect x="99.9" y="251" width="6.5" height="5.1" fill="#fc7a7e"/>
<rect x="109.8" y="232.9" width="6.5" height="23.2" fill="#fc7a7e"/>
<rect x="119.7" y="226.2" width="6.5" height="29.9" fill="#fc7a7e"/>
<path d="M93.25 251.4V252.4M92.35 251.4H94.15" stroke="#333" stroke-width="0.35" fill="none"/>
<path d="M103.15 250.4V251.6M102.25 250.4H104.05" stroke="#333" stroke-width="0.35" fill="none"/>
<path d="M113.05 231.4V234.4M112.15 231.4H113.95" stroke="#333" stroke-width="0.35" fill="none"/>
<path d="M122.95 222.2V230.2M122.05 222.2H123.85" stroke="#333" stroke-width="0.35" fill="none"/>
<path d="M86.5 256.5H129.4" stroke="#aaa098" stroke-width="0.9" fill="none"/>
<path d="M86.5 213.6V256.5" stroke="#555" stroke-width="0.9" fill="none"/>
<path d="M85 213.6H86.5" stroke="#555" stroke-width="0.6"/>
<path d="M85 222.1H86.5" stroke="#555" stroke-width="0.6"/>
<path d="M85 230.6H86.5" stroke="#555" stroke-width="0.6"/>
<path d="M85 239.1H86.5" stroke="#555" stroke-width="0.6"/>
<path d="M85 247.6H86.5" stroke="#555" stroke-width="0.6"/>
<path d="M85 256.1H86.5" stroke="#555" stroke-width="0.6"/>
<path d="M93.25 256.5V257.7" stroke="#444" stroke-width="0.5"/>
<path d="M103.15 256.5V257.7" stroke="#444" stroke-width="0.5"/>
<path d="M113.05 256.5V257.7" stroke="#444" stroke-width="0.5"/>
<path d="M122.95 256.5V257.7" stroke="#444" stroke-width="0.5"/>
<text x="84.8" y="215.25" class="tl">10</text>
<text x="84.8" y="223.75" class="tl">8</text>
<text x="84.8" y="232.25" class="tl">6</text>
<text x="84.8" y="240.75" class="tl">4</text>
<text x="84.8" y="249.25" class="tl">2</text>
<text x="84.8" y="257.75" class="tl">0</text>
<text x="93.25" y="261.8" class="xl">0h</text>
<text x="103.15" y="261.8" class="xl">3h</text>
<text x="113.05" y="261.8" class="xl">12</text>
<text x="122.95" y="261.8" class="xl">24h</text>
<text x="93.25" y="250.6" class="lt">d</text>
<text x="103.15" y="249.6" class="lt">c</text>
<text x="113.05" y="230.6" class="lt">b</text>
<text x="122.95" y="221.4" class="lt">a</text>
<text x="106.2" y="215.4" class="ti">MdCLF</text>
<text transform="translate(78.9 235.35) rotate(-90)" class="yl">Relative expression level</text>
<rect x="155.1" y="251" width="6.5" height="5.1" fill="#fc7a7e"/>
<rect x="165" y="251.2" width="6.5" height="4.9" fill="#fc7a7e"/>
<rect x="174.9" y="236.9" width="6.5" height="19.2" fill="#fc7a7e"/>
<rect x="184.8" y="223.5" width="6.5" height="32.6" fill="#fc7a7e"/>
<path d="M158.35 250.5V251.5M157.45 250.5H159.25" stroke="#333" stroke-width="0.35" fill="none"/>
<path d="M168.25 250.6V251.8M167.35 250.6H169.15" stroke="#333" stroke-width="0.35" fill="none"/>
<path d="M178.15 236.3V237.5M177.25 236.3H179.05" stroke="#333" stroke-width="0.35" fill="none"/>
<path d="M188.05 222.7V224.3M187.15 222.7H188.95" stroke="#333" stroke-width="0.35" fill="none"/>
<path d="M152.5 256.5H194.5" stroke="#aaa098" stroke-width="0.9" fill="none"/>
<path d="M152.5 213.6V256.5" stroke="#555" stroke-width="0.9" fill="none"/>
<path d="M151 213.6H152.5" stroke="#555" stroke-width="0.6"/>
<path d="M151 224.22H152.5" stroke="#555" stroke-width="0.6"/>
<path d="M151 234.85H152.5" stroke="#555" stroke-width="0.6"/>
<path d="M151 245.48H152.5" stroke="#555" stroke-width="0.6"/>
<path d="M151 256.1H152.5" stroke="#555" stroke-width="0.6"/>
<path d="M158.35 256.5V257.7" stroke="#444" stroke-width="0.5"/>
<path d="M168.25 256.5V257.7" stroke="#444" stroke-width="0.5"/>
<path d="M178.15 256.5V257.7" stroke="#444" stroke-width="0.5"/>
<path d="M188.05 256.5V257.7" stroke="#444" stroke-width="0.5"/>
<text x="150" y="215.25" class="tl">8</text>
<text x="150" y="225.88" class="tl">6</text>
<text x="150" y="236.5" class="tl">4</text>
<text x="150" y="247.13" class="tl">2</text>
<text x="150" y="257.75" class="tl">0</text>
<text x="158.35" y="261.8" class="xl">0h</text>
<text x="168.25" y="261.8" class="xl">3h</text>
<text x="178.15" y="261.8" class="xl">12</text>
<text x="188.05" y="261.8" class="xl">24h</text>
<text x="158.35" y="249.7" class="lt">c</text>
<text x="168.25" y="249.8" class="lt">c</text>
<text x="178.15" y="235.5" class="lt">b</text>
<text x="188.05" y="221.9" class="lt">a</text>
<text x="174.5" y="215.4" class="ti">MdEMF1.1</text>
<text transform="translate(145.85 235.35) rotate(-90)" class="yl">Relative expression level</text>
<rect x="222.5" y="253" width="6.5" height="3.1" fill="#fc7a7e"/>
<rect x="232.4" y="251.2" width="6.5" height="4.9" fill="#fc7a7e"/>
<rect x="242.3" y="233.5" width="6.5" height="22.6" fill="#fc7a7e"/>
<rect x="252.2" y="233.8" width="6.5" height="22.3" fill="#fc7a7e"/>
<path d="M225.75 252.5V253.5M224.85 252.5H226.65" stroke="#333" stroke-width="0.35" fill="none"/>
<path d="M235.65 249.2V253.2M234.75 249.2H236.55" stroke="#333" stroke-width="0.35" fill="none"/>
<path d="M245.55 232.7V234.3M244.65 232.7H246.45" stroke="#333" stroke-width="0.35" fill="none"/>
<path d="M255.45 224.8V242.8M254.55 224.8H256.35" stroke="#333" stroke-width="0.35" fill="none"/>
<path d="M218.5 256.5H261.9" stroke="#aaa098" stroke-width="0.9" fill="none"/>
<path d="M218.5 213.6V256.5" stroke="#555" stroke-width="0.9" fill="none"/>
<path d="M217 213.6H218.5" stroke="#555" stroke-width="0.6"/>
<path d="M217 227.77H218.5" stroke="#555" stroke-width="0.6"/>
<path d="M217 241.93H218.5" stroke="#555" stroke-width="0.6"/>
<path d="M217 256.1H218.5" stroke="#555" stroke-width="0.6"/>
<path d="M225.75 256.5V257.7" stroke="#444" stroke-width="0.5"/>
<path d="M235.65 256.5V257.7" stroke="#444" stroke-width="0.5"/>
<path d="M245.55 256.5V257.7" stroke="#444" stroke-width="0.5"/>
<path d="M255.45 256.5V257.7" stroke="#444" stroke-width="0.5"/>
<text x="216.7" y="215.25" class="tl">15</text>
<text x="216.7" y="229.42" class="tl">10</text>
<text x="216.7" y="243.58" class="tl">5</text>
<text x="216.7" y="257.75" class="tl">0</text>
<text x="225.75" y="261.8" class="xl">0h</text>
<text x="235.65" y="261.8" class="xl">3h</text>
<text x="245.55" y="261.8" class="xl">12</text>
<text x="255.45" y="261.8" class="xl">24h</text>
<text x="225.75" y="251.7" class="lt">b</text>
<text x="235.65" y="248.4" class="lt">b</text>
<text x="245.55" y="231.9" class="lt">a</text>
<text x="255.45" y="224" class="lt">a</text>
<text x="238.9" y="215.4" class="ti">MdEMF2</text>
<text transform="translate(210.8 235.35) rotate(-90)" class="yl">Relative expression level</text>
<rect x="22.7" y="310.9" width="6.5" height="4.1" fill="#fc7a7e"/>
<rect x="32.6" y="311.8" width="6.5" height="3.2" fill="#fc7a7e"/>
<rect x="42.5" y="296.8" width="6.5" height="18.2" fill="#fc7a7e"/>
<rect x="52.4" y="283.1" width="6.5" height="31.9" fill="#fc7a7e"/>
<path d="M25.95 310.4V311.4M25.05 310.4H26.85" stroke="#333" stroke-width="0.35" fill="none"/>
<path d="M35.85 311.3V312.3M34.95 311.3H36.75" stroke="#333" stroke-width="0.35" fill="none"/>
<path d="M45.75 295V298.6M44.85 295H46.65" stroke="#333" stroke-width="0.35" fill="none"/>
<path d="M55.65 280.6V285.6M54.75 280.6H56.55" stroke="#333" stroke-width="0.35" fill="none"/>
<path d="M19.5 315.5H62.1" stroke="#aaa098" stroke-width="0.9" fill="none"/>
<path d="M19.5 272.4V315.5" stroke="#555" stroke-width="0.9" fill="none"/>
<path d="M18 272.4H19.5" stroke="#555" stroke-width="0.6"/>
<path d="M18 280.92H19.5" stroke="#555" stroke-width="0.6"/>
<path d="M18 289.44H19.5" stroke="#555" stroke-width="0.6"/>
<path d="M18 297.96H19.5" stroke="#555" stroke-width="0.6"/>
<path d="M18 306.48H19.5" stroke="#555" stroke-width="0.6"/>
<path d="M18 315H19.5" stroke="#555" stroke-width="0.6"/>
<path d="M25.95 315.5V316.7" stroke="#444" stroke-width="0.5"/>
<path d="M35.85 315.5V316.7" stroke="#444" stroke-width="0.5"/>
<path d="M45.75 315.5V316.7" stroke="#444" stroke-width="0.5"/>
<path d="M55.65 315.5V316.7" stroke="#444" stroke-width="0.5"/>
<text x="17.8" y="274.05" class="tl">10</text>
<text x="17.8" y="282.57" class="tl">8</text>
<text x="17.8" y="291.09" class="tl">6</text>
<text x="17.8" y="299.61" class="tl">4</text>
<text x="17.8" y="308.13" class="tl">2</text>
<text x="17.8" y="316.65" class="tl">0</text>
<text x="25.95" y="320.7" class="xl">0h</text>
<text x="35.85" y="320.7" class="xl">3h</text>
<text x="45.75" y="320.7" class="xl">12</text>
<text x="55.65" y="320.7" class="xl">24h</text>
<text x="25.95" y="309.6" class="lt">c</text>
<text x="35.85" y="310.5" class="lt">d</text>
<text x="45.75" y="294.2" class="lt">b</text>
<text x="55.65" y="279.8" class="lt">a</text>
<text x="39.9" y="274.2" class="ti">MdFIE.2</text>
<text transform="translate(11.9 294.2) rotate(-90)" class="yl">Relative expression level</text>
<rect x="89.8" y="313.3" width="6.5" height="1.7" fill="#fc7a7e"/>
<rect x="99.7" y="312.2" width="6.5" height="2.8" fill="#fc7a7e"/>
<rect x="109.6" y="308.9" width="6.5" height="6.1" fill="#fc7a7e"/>
<rect x="119.5" y="279.8" width="6.5" height="35.2" fill="#fc7a7e"/>
<path d="M93.05 312.9V313.7M92.15 312.9H93.95" stroke="#333" stroke-width="0.35" fill="none"/>
<path d="M102.95 311.7V312.7M102.05 311.7H103.85" stroke="#333" stroke-width="0.35" fill="none"/>
<path d="M112.85 308.1V309.7M111.95 308.1H113.75" stroke="#333" stroke-width="0.35" fill="none"/>
<path d="M122.75 274.7V284.9M121.85 274.7H123.65" stroke="#333" stroke-width="0.35" fill="none"/>
<path d="M86.5 315.5H129.2" stroke="#aaa098" stroke-width="0.9" fill="none"/>
<path d="M86.5 272.4V315.5" stroke="#555" stroke-width="0.9" fill="none"/>
<path d="M85 272.4H86.5" stroke="#555" stroke-width="0.6"/>
<path d="M85 280.92H86.5" stroke="#555" stroke-width="0.6"/>
<path d="M85 289.44H86.5" stroke="#555" stroke-width="0.6"/>
<path d="M85 297.96H86.5" stroke="#555" stroke-width="0.6"/>
<path d="M85 306.48H86.5" stroke="#555" stroke-width="0.6"/>
<path d="M85 315H86.5" stroke="#555" stroke-width="0.6"/>
<path d="M93.05 315.5V316.7" stroke="#444" stroke-width="0.5"/>
<path d="M102.95 315.5V316.7" stroke="#444" stroke-width="0.5"/>
<path d="M112.85 315.5V316.7" stroke="#444" stroke-width="0.5"/>
<path d="M122.75 315.5V316.7" stroke="#444" stroke-width="0.5"/>
<text x="84.4" y="274.05" class="tl">25</text>
<text x="84.4" y="282.57" class="tl">20</text>
<text x="84.4" y="291.09" class="tl">15</text>
<text x="84.4" y="299.61" class="tl">10</text>
<text x="84.4" y="308.13" class="tl">5</text>
<text x="84.4" y="316.65" class="tl">0</text>
<text x="93.05" y="320.7" class="xl">0h</text>
<text x="102.95" y="320.7" class="xl">3h</text>
<text x="112.85" y="320.7" class="xl">12</text>
<text x="122.75" y="320.7" class="xl">24h</text>
<text x="93.05" y="312.1" class="lt">d</text>
<text x="102.95" y="310.9" class="lt">c</text>
<text x="112.85" y="307.3" class="lt">b</text>
<text x="122.75" y="273.9" class="lt">a</text>
<text x="108.2" y="274.2" class="ti">MdMEA.1</text>
<text transform="translate(78.5 294.2) rotate(-90)" class="yl">Relative expression level</text>
<rect x="155.1" y="309.8" width="6.5" height="5.2" fill="#fc7a7e"/>
<rect x="165" y="310.9" width="6.5" height="4.1" fill="#fc7a7e"/>
<rect x="174.9" y="287" width="6.5" height="28" fill="#fc7a7e"/>
<rect x="184.8" y="282.7" width="6.5" height="32.3" fill="#fc7a7e"/>
<path d="M158.35 309.3V310.3M157.45 309.3H159.25" stroke="#333" stroke-width="0.35" fill="none"/>
<path d="M168.25 310.4V311.4M167.35 310.4H169.15" stroke="#333" stroke-width="0.35" fill="none"/>
<path d="M178.15 281.4V292.6M177.25 281.4H179.05" stroke="#333" stroke-width="0.35" fill="none"/>
<path d="M188.05 278V287.4M187.15 278H188.95" stroke="#333" stroke-width="0.35" fill="none"/>
<path d="M152.5 315.5H194.5" stroke="#aaa098" stroke-width="0.9" fill="none"/>
<path d="M152.5 272.4V315.5" stroke="#555" stroke-width="0.9" fill="none"/>
<path d="M151 272.4H152.5" stroke="#555" stroke-width="0.6"/>
<path d="M151 283.05H152.5" stroke="#555" stroke-width="0.6"/>
<path d="M151 293.7H152.5" stroke="#555" stroke-width="0.6"/>
<path d="M151 304.35H152.5" stroke="#555" stroke-width="0.6"/>
<path d="M151 315H152.5" stroke="#555" stroke-width="0.6"/>
<path d="M158.35 315.5V316.7" stroke="#444" stroke-width="0.5"/>
<path d="M168.25 315.5V316.7" stroke="#444" stroke-width="0.5"/>
<path d="M178.15 315.5V316.7" stroke="#444" stroke-width="0.5"/>
<path d="M188.05 315.5V316.7" stroke="#444" stroke-width="0.5"/>
<text x="150" y="274.05" class="tl">8</text>
<text x="150" y="284.7" class="tl">6</text>
<text x="150" y="295.35" class="tl">4</text>
<text x="150" y="306" class="tl">2</text>
<text x="150" y="316.65" class="tl">0</text>
<text x="158.35" y="320.7" class="xl">0h</text>
<text x="168.25" y="320.7" class="xl">3h</text>
<text x="178.15" y="320.7" class="xl">12</text>
<text x="188.05" y="320.7" class="xl">24h</text>
<text x="158.35" y="308.5" class="lt">b</text>
<text x="168.25" y="309.6" class="lt">c</text>
<text x="178.15" y="280.6" class="lt">a</text>
<text x="188.05" y="277.2" class="lt">a</text>
<text x="174.5" y="274.2" class="ti">MdBMI1.4</text>
<text transform="translate(145.85 294.2) rotate(-90)" class="yl">Relative expression level</text>
<rect x="222.1" y="306.9" width="6.5" height="8.1" fill="#fc7a7e"/>
<rect x="232" y="308.9" width="6.5" height="6.1" fill="#fc7a7e"/>
<rect x="241.9" y="289.2" width="6.5" height="25.8" fill="#fc7a7e"/>
<rect x="251.8" y="278.7" width="6.5" height="36.3" fill="#fc7a7e"/>
<path d="M225.35 306.4V307.4M224.45 306.4H226.25" stroke="#333" stroke-width="0.35" fill="none"/>
<path d="M235.25 308.3V309.5M234.35 308.3H236.15" stroke="#333" stroke-width="0.35" fill="none"/>
<path d="M245.15 288.4V290M244.25 288.4H246.05" stroke="#333" stroke-width="0.35" fill="none"/>
<path d="M255.05 275.4V282M254.15 275.4H255.95" stroke="#333" stroke-width="0.35" fill="none"/>
<path d="M218.5 315.5H261.5" stroke="#aaa098" stroke-width="0.9" fill="none"/>
<path d="M218.5 272.4V315.5" stroke="#555" stroke-width="0.9" fill="none"/>
<path d="M217 272.4H218.5" stroke="#555" stroke-width="0.6"/>
<path d="M217 280.92H218.5" stroke="#555" stroke-width="0.6"/>
<path d="M217 289.44H218.5" stroke="#555" stroke-width="0.6"/>
<path d="M217 297.96H218.5" stroke="#555" stroke-width="0.6"/>
<path d="M217 306.48H218.5" stroke="#555" stroke-width="0.6"/>
<path d="M217 315H218.5" stroke="#555" stroke-width="0.6"/>
<path d="M225.35 315.5V316.7" stroke="#444" stroke-width="0.5"/>
<path d="M235.25 315.5V316.7" stroke="#444" stroke-width="0.5"/>
<path d="M245.15 315.5V316.7" stroke="#444" stroke-width="0.5"/>
<path d="M255.05 315.5V316.7" stroke="#444" stroke-width="0.5"/>
<text x="216.7" y="274.05" class="tl">5</text>
<text x="216.7" y="282.57" class="tl">4</text>
<text x="216.7" y="291.09" class="tl">3</text>
<text x="216.7" y="299.61" class="tl">2</text>
<text x="216.7" y="308.13" class="tl">1</text>
<text x="216.7" y="316.65" class="tl">0</text>
<text x="225.35" y="320.7" class="xl">0h</text>
<text x="235.25" y="320.7" class="xl">3h</text>
<text x="245.15" y="320.7" class="xl">12</text>
<text x="255.05" y="320.7" class="xl">24h</text>
<text x="225.35" y="305.6" class="lt">c</text>
<text x="235.25" y="307.5" class="lt">d</text>
<text x="245.15" y="287.6" class="lt">b</text>
<text x="255.05" y="274.6" class="lt">a</text>
<text x="238.5" y="274.2" class="ti">MdRING1.4</text>
<text transform="translate(212.55 294.2) rotate(-90)" class="yl">Relative expression level</text>
<rect x="22.7" y="366.9" width="6.5" height="7" fill="#fc7a7e"/>
<rect x="32.6" y="368.8" width="6.5" height="5.1" fill="#fc7a7e"/>
<rect x="42.5" y="340.4" width="6.5" height="33.5" fill="#fc7a7e"/>
<rect x="52.4" y="344.2" width="6.5" height="29.7" fill="#fc7a7e"/>
<path d="M25.95 366.3V367.5M25.05 366.3H26.85" stroke="#333" stroke-width="0.35" fill="none"/>
<path d="M35.85 368.3V369.3M34.95 368.3H36.75" stroke="#333" stroke-width="0.35" fill="none"/>
<path d="M45.75 339.4V341.4M44.85 339.4H46.65" stroke="#333" stroke-width="0.35" fill="none"/>
<path d="M55.65 341.2V347.2M54.75 341.2H56.55" stroke="#333" stroke-width="0.35" fill="none"/>
<path d="M19.5 373.5H62.1" stroke="#aaa098" stroke-width="0.9" fill="none"/>
<path d="M19.5 331.4V373.5" stroke="#555" stroke-width="0.9" fill="none"/>
<path d="M18 331.4H19.5" stroke="#555" stroke-width="0.6"/>
<path d="M18 345.57H19.5" stroke="#555" stroke-width="0.6"/>
<path d="M18 359.73H19.5" stroke="#555" stroke-width="0.6"/>
<path d="M18 373.9H19.5" stroke="#555" stroke-width="0.6"/>
<path d="M25.95 373.5V374.7" stroke="#444" stroke-width="0.5"/>
<path d="M35.85 373.5V374.7" stroke="#444" stroke-width="0.5"/>
<path d="M45.75 373.5V374.7" stroke="#444" stroke-width="0.5"/>
<path d="M55.65 373.5V374.7" stroke="#444" stroke-width="0.5"/>
<text x="17.4" y="333.05" class="tl">6</text>
<text x="17.4" y="347.22" class="tl">4</text>
<text x="17.4" y="361.38" class="tl">2</text>
<text x="17.4" y="375.55" class="tl">0</text>
<text x="25.95" y="379.6" class="xl">0h</text>
<text x="35.85" y="379.6" class="xl">3h</text>
<text x="45.75" y="379.6" class="xl">12</text>
<text x="55.65" y="379.6" class="xl">24h</text>
<text x="25.95" y="365.5" class="lt">b</text>
<text x="35.85" y="367.5" class="lt">c</text>
<text x="45.75" y="338.6" class="lt">a</text>
<text x="55.65" y="340.4" class="lt">a</text>
<text x="40.2" y="333.2" class="ti">MdRING1B.1</text>
<text transform="translate(13.25 353.15) rotate(-90)" class="yl">Relative expression level</text>
<rect x="89.7" y="356.8" width="6.5" height="17.1" fill="#fc7a7e"/>
<rect x="99.6" y="366.1" width="6.5" height="7.8" fill="#fc7a7e"/>
<rect x="109.5" y="341.5" width="6.5" height="32.4" fill="#fc7a7e"/>
<rect x="119.4" y="350.1" width="6.5" height="23.8" fill="#fc7a7e"/>
<path d="M92.95 356.3V357.3M92.05 356.3H93.85" stroke="#333" stroke-width="0.35" fill="none"/>
<path d="M102.85 365.5V366.7M101.95 365.5H103.75" stroke="#333" stroke-width="0.35" fill="none"/>
<path d="M112.75 340.5V342.5M111.85 340.5H113.65" stroke="#333" stroke-width="0.35" fill="none"/>
<path d="M122.65 349.3V350.9M121.75 349.3H123.55" stroke="#333" stroke-width="0.35" fill="none"/>
<path d="M86.5 373.5H129.1" stroke="#aaa098" stroke-width="0.9" fill="none"/>
<path d="M86.5 331.4V373.5" stroke="#555" stroke-width="0.9" fill="none"/>
<path d="M85 331.4H86.5" stroke="#555" stroke-width="0.6"/>
<path d="M85 339.9H86.5" stroke="#555" stroke-width="0.6"/>
<path d="M85 348.4H86.5" stroke="#555" stroke-width="0.6"/>
<path d="M85 356.9H86.5" stroke="#555" stroke-width="0.6"/>
<path d="M85 365.4H86.5" stroke="#555" stroke-width="0.6"/>
<path d="M85 373.9H86.5" stroke="#555" stroke-width="0.6"/>
<path d="M92.95 373.5V374.7" stroke="#444" stroke-width="0.5"/>
<path d="M102.85 373.5V374.7" stroke="#444" stroke-width="0.5"/>
<path d="M112.75 373.5V374.7" stroke="#444" stroke-width="0.5"/>
<path d="M122.65 373.5V374.7" stroke="#444" stroke-width="0.5"/>
<text x="84.4" y="333.05" class="tl">2.5</text>
<text x="84.4" y="341.55" class="tl">2.0</text>
<text x="84.4" y="350.05" class="tl">1.5</text>
<text x="84.4" y="358.55" class="tl">1.0</text>
<text x="84.4" y="367.05" class="tl">0.5</text>
<text x="84.4" y="375.55" class="tl">0.0</text>
<text x="92.95" y="379.6" class="xl">0h</text>
<text x="102.85" y="379.6" class="xl">3h</text>
<text x="112.75" y="379.6" class="xl">12</text>
<text x="122.65" y="379.6" class="xl">24h</text>
<text x="92.95" y="355.5" class="lt">c</text>
<text x="102.85" y="364.7" class="lt">d</text>
<text x="112.75" y="339.7" class="lt">a</text>
<text x="122.65" y="348.5" class="lt">b</text>
<text x="106.8" y="333.2" class="ti">MdSWN</text>
<text transform="translate(77.62 353.15) rotate(-90)" class="yl">Relative expression level</text>
<rect x="155.1" y="369.9" width="6.5" height="4" fill="#fc7a7e"/>
<rect x="165" y="365.9" width="6.5" height="8" fill="#fc7a7e"/>
<rect x="174.9" y="343.1" width="6.5" height="30.8" fill="#fc7a7e"/>
<rect x="184.8" y="351.8" width="6.5" height="22.1" fill="#fc7a7e"/>
<path d="M158.35 369.4V370.4M157.45 369.4H159.25" stroke="#333" stroke-width="0.35" fill="none"/>
<path d="M168.25 365.4V366.4M167.35 365.4H169.15" stroke="#333" stroke-width="0.35" fill="none"/>
<path d="M178.15 338.8V347.4M177.25 338.8H179.05" stroke="#333" stroke-width="0.35" fill="none"/>
<path d="M188.05 349.8V353.8M187.15 349.8H188.95" stroke="#333" stroke-width="0.35" fill="none"/>
<path d="M151.5 373.5H194.5" stroke="#aaa098" stroke-width="0.9" fill="none"/>
<path d="M151.5 331.4V373.5" stroke="#555" stroke-width="0.9" fill="none"/>
<path d="M150 331.4H151.5" stroke="#555" stroke-width="0.6"/>
<path d="M150 339.9H151.5" stroke="#555" stroke-width="0.6"/>
<path d="M150 348.4H151.5" stroke="#555" stroke-width="0.6"/>
<path d="M150 356.9H151.5" stroke="#555" stroke-width="0.6"/>
<path d="M150 365.4H151.5" stroke="#555" stroke-width="0.6"/>
<path d="M150 373.9H151.5" stroke="#555" stroke-width="0.6"/>
<path d="M158.35 373.5V374.7" stroke="#444" stroke-width="0.5"/>
<path d="M168.25 373.5V374.7" stroke="#444" stroke-width="0.5"/>
<path d="M178.15 373.5V374.7" stroke="#444" stroke-width="0.5"/>
<path d="M188.05 373.5V374.7" stroke="#444" stroke-width="0.5"/>
<text x="149.5" y="333.05" class="tl">10</text>
<text x="149.5" y="341.55" class="tl">8</text>
<text x="149.5" y="350.05" class="tl">6</text>
<text x="149.5" y="358.55" class="tl">4</text>
<text x="149.5" y="367.05" class="tl">2</text>
<text x="149.5" y="375.55" class="tl">0</text>
<text x="158.35" y="379.6" class="xl">0h</text>
<text x="168.25" y="379.6" class="xl">3h</text>
<text x="178.15" y="379.6" class="xl">12</text>
<text x="188.05" y="379.6" class="xl">24h</text>
<text x="158.35" y="368.6" class="lt">d</text>
<text x="168.25" y="364.6" class="lt">c</text>
<text x="178.15" y="338" class="lt">a</text>
<text x="188.05" y="349" class="lt">b</text>
<text x="175.8" y="333.2" class="ti">MdVRN1.19</text>
<text transform="translate(143.6 353.15) rotate(-90)" class="yl">Relative expression level</text>
<rect x="222.1" y="362.9" width="6.5" height="11" fill="#fc7a7e"/>
<rect x="232" y="367.9" width="6.5" height="6" fill="#fc7a7e"/>
<rect x="241.9" y="340.4" width="6.5" height="33.5" fill="#fc7a7e"/>
<rect x="251.8" y="358.5" width="6.5" height="15.4" fill="#fc7a7e"/>
<path d="M225.35 362.4V363.4M224.45 362.4H226.25" stroke="#333" stroke-width="0.35" fill="none"/>
<path d="M235.25 367.3V368.5M234.35 367.3H236.15" stroke="#333" stroke-width="0.35" fill="none"/>
<path d="M245.15 338.9V341.9M244.25 338.9H246.05" stroke="#333" stroke-width="0.35" fill="none"/>
<path d="M255.05 357.9V359.1M254.15 357.9H255.95" stroke="#333" stroke-width="0.35" fill="none"/>
<path d="M218.5 373.5H261.5" stroke="#aaa098" stroke-width="0.9" fill="none"/>
<path d="M218.5 331.4V373.5" stroke="#555" stroke-width="0.9" fill="none"/>
<path d="M217 331.4H218.5" stroke="#555" stroke-width="0.6"/>
<path d="M217 342.02H218.5" stroke="#555" stroke-width="0.6"/>
<path d="M217 352.65H218.5" stroke="#555" stroke-width="0.6"/>
<path d="M217 363.27H218.5" stroke="#555" stroke-width="0.6"/>
<path d="M217 373.9H218.5" stroke="#555" stroke-width="0.6"/>
<path d="M225.35 373.5V374.7" stroke="#444" stroke-width="0.5"/>
<path d="M235.25 373.5V374.7" stroke="#444" stroke-width="0.5"/>
<path d="M245.15 373.5V374.7" stroke="#444" stroke-width="0.5"/>
<path d="M255.05 373.5V374.7" stroke="#444" stroke-width="0.5"/>
<text x="216.5" y="333.05" class="tl">4</text>
<text x="216.5" y="343.67" class="tl">3</text>
<text x="216.5" y="354.3" class="tl">2</text>
<text x="216.5" y="364.92" class="tl">1</text>
<text x="216.5" y="375.55" class="tl">0</text>
<text x="225.35" y="379.6" class="xl">0h</text>
<text x="235.25" y="379.6" class="xl">3h</text>
<text x="245.15" y="379.6" class="xl">12</text>
<text x="255.05" y="379.6" class="xl">24h</text>
<text x="225.35" y="361.6" class="lt">c</text>
<text x="235.25" y="366.5" class="lt">d</text>
<text x="245.15" y="338.1" class="lt">a</text>
<text x="255.05" y="357.1" class="lt">b</text>
<text x="239.2" y="333.2" class="ti">MdVRN2</text>
<text transform="translate(212.35 353.15) rotate(-90)" class="yl">Relative expression level</text>
<rect x="291.5" y="255.6" width="6.5" height="0.6" fill="#fc7a7e"/>
<rect x="301.4" y="222.1" width="6.5" height="34.1" fill="#fc7a7e"/>
<rect x="311.3" y="241.8" width="6.5" height="14.4" fill="#fc7a7e"/>
<rect x="321.2" y="252.6" width="6.5" height="3.6" fill="#fc7a7e"/>
<rect x="301.1" y="233.5" width="7.1" height="3" fill="#fff"/>
<path d="M294.75 255.3V255.9M293.85 255.3H295.65" stroke="#333" stroke-width="0.35" fill="none"/>
<path d="M304.65 213.1V231.1M303.75 213.1H305.55" stroke="#333" stroke-width="0.35" fill="none"/>
<path d="M314.55 238.2V245.4M313.65 238.2H315.45" stroke="#333" stroke-width="0.35" fill="none"/>
<path d="M324.45 250.8V254.4M323.55 250.8H325.35" stroke="#333" stroke-width="0.35" fill="none"/>
<path d="M288.5 256.5H330.9" stroke="#aaa098" stroke-width="0.9" fill="none"/>
<path d="M288.5 213.7V256.5" stroke="#555" stroke-width="0.9" fill="none"/>
<path d="M287 213.7H288.5" stroke="#555" stroke-width="0.6"/>
<path d="M287 220.4H288.5" stroke="#555" stroke-width="0.6"/>
<path d="M287 226.4H288.5" stroke="#555" stroke-width="0.6"/>
<path d="M287 233.1H288.5" stroke="#555" stroke-width="0.6"/>
<path d="M287 239.8H288.5" stroke="#555" stroke-width="0.6"/>
<path d="M287 244.2H288.5" stroke="#555" stroke-width="0.6"/>
<path d="M287 248.5H288.5" stroke="#555" stroke-width="0.6"/>
<path d="M287 256.2H288.5" stroke="#555" stroke-width="0.6"/>
<path d="M294.75 256.5V257.7" stroke="#444" stroke-width="0.5"/>
<path d="M304.65 256.5V257.7" stroke="#444" stroke-width="0.5"/>
<path d="M314.55 256.5V257.7" stroke="#444" stroke-width="0.5"/>
<path d="M324.45 256.5V257.7" stroke="#444" stroke-width="0.5"/>
<rect x="287.5" y="234.4" width="2" height="1.2" fill="#fff"/>
<path d="M287.6 234.8L289.4 233.8M287.6 236.2L289.4 235.2" stroke="#555" stroke-width="0.4"/>
<text x="286" y="215.35" class="tl">200</text>
<text x="286" y="222.05" class="tl">150</text>
<text x="286" y="228.05" class="tl">100</text>
<text x="286" y="234.75" class="tl">50</text>
<text x="286" y="241.45" class="tl">30</text>
<text x="286" y="245.85" class="tl">20</text>
<text x="286" y="250.15" class="tl">10</text>
<text x="286" y="257.85" class="tl">0</text>
<text x="294.75" y="261.9" class="xl">0h</text>
<text x="304.65" y="261.9" class="xl">3h</text>
<text x="314.55" y="261.9" class="xl">12h</text>
<text x="324.45" y="261.9" class="xl">24h</text>
<text x="294.75" y="254.5" class="lt">d</text>
<text x="304.65" y="212.3" class="lt">a</text>
<text x="314.55" y="237.4" class="lt">b</text>
<text x="324.45" y="250" class="lt">c</text>
<text x="313.7" y="215.5" class="ti">MdMSI1.1</text>
<text transform="translate(278.35 235.45) rotate(-90)" class="yl">Relative expression level</text>
<rect x="358.4" y="249.9" width="6.5" height="6.3" fill="#fc7a7e"/>
<rect x="368.3" y="225.8" width="6.5" height="30.4" fill="#fc7a7e"/>
<rect x="378.2" y="241.8" width="6.5" height="14.4" fill="#fc7a7e"/>
<rect x="388.1" y="252.3" width="6.5" height="3.9" fill="#fc7a7e"/>
<rect x="368" y="233.4" width="7.1" height="3.5" fill="#fff"/>
<path d="M361.65 249.3V250.5M360.75 249.3H362.55" stroke="#333" stroke-width="0.35" fill="none"/>
<path d="M371.55 219.5V232.1M370.65 219.5H372.45" stroke="#333" stroke-width="0.35" fill="none"/>
<path d="M381.45 239.8V243.8M380.55 239.8H382.35" stroke="#333" stroke-width="0.35" fill="none"/>
<path d="M391.35 251.5V253.1M390.45 251.5H392.25" stroke="#333" stroke-width="0.35" fill="none"/>
<path d="M355.5 256.5H397.8" stroke="#aaa098" stroke-width="0.9" fill="none"/>
<path d="M355.5 213.7V256.5" stroke="#555" stroke-width="0.9" fill="none"/>
<path d="M354 213.7H355.5" stroke="#555" stroke-width="0.6"/>
<path d="M354 218.4H355.5" stroke="#555" stroke-width="0.6"/>
<path d="M354 223.1H355.5" stroke="#555" stroke-width="0.6"/>
<path d="M354 228.4H355.5" stroke="#555" stroke-width="0.6"/>
<path d="M354 233.2H355.5" stroke="#555" stroke-width="0.6"/>
<path d="M354 236.9H355.5" stroke="#555" stroke-width="0.6"/>
<path d="M354 243.3H355.5" stroke="#555" stroke-width="0.6"/>
<path d="M354 249.8H355.5" stroke="#555" stroke-width="0.6"/>
<path d="M354 256.2H355.5" stroke="#555" stroke-width="0.6"/>
<path d="M361.65 256.5V257.7" stroke="#444" stroke-width="0.5"/>
<path d="M371.55 256.5V257.7" stroke="#444" stroke-width="0.5"/>
<path d="M381.45 256.5V257.7" stroke="#444" stroke-width="0.5"/>
<path d="M391.35 256.5V257.7" stroke="#444" stroke-width="0.5"/>
<rect x="354.5" y="234.55" width="2" height="1.2" fill="#fff"/>
<path d="M354.6 234.95L356.4 233.95M354.6 236.35L356.4 235.35" stroke="#555" stroke-width="0.4"/>
<text x="353" y="215.35" class="tl">80</text>
<text x="353" y="220.05" class="tl">70</text>
<text x="353" y="224.75" class="tl">60</text>
<text x="353" y="230.05" class="tl">50</text>
<text x="353" y="234.85" class="tl">40</text>
<text x="353" y="238.55" class="tl">3</text>
<text x="353" y="244.95" class="tl">2</text>
<text x="353" y="251.45" class="tl">1</text>
<text x="353" y="257.85" class="tl">0</text>
<text x="361.65" y="261.9" class="xl">0h</text>
<text x="371.55" y="261.9" class="xl">3h</text>
<text x="381.45" y="261.9" class="xl">12h</text>
<text x="391.35" y="261.9" class="xl">24h</text>
<text x="361.65" y="248.5" class="lt">c</text>
<text x="371.55" y="218.7" class="lt">a</text>
<text x="381.45" y="239" class="lt">b</text>
<text x="391.35" y="250.7" class="lt">d</text>
<text x="376.9" y="215.5" class="ti">MdCLF</text>
<text transform="translate(347.1 235.45) rotate(-90)" class="yl">Relative expression level</text>
<rect x="425.4" y="252.2" width="6.5" height="4" fill="#fc7a7e"/>
<rect x="435.3" y="224.8" width="6.5" height="31.4" fill="#fc7a7e"/>
<rect x="445.2" y="240.1" width="6.5" height="16.1" fill="#fc7a7e"/>
<rect x="455.1" y="249.9" width="6.5" height="6.3" fill="#fc7a7e"/>
<rect x="435" y="233.4" width="7.1" height="3.1" fill="#fff"/>
<path d="M428.65 251.6V252.8M427.75 251.6H429.55" stroke="#333" stroke-width="0.35" fill="none"/>
<path d="M438.55 221.8V227.8M437.65 221.8H439.45" stroke="#333" stroke-width="0.35" fill="none"/>
<path d="M448.45 238.1V242.1M447.55 238.1H449.35" stroke="#333" stroke-width="0.35" fill="none"/>
<path d="M458.35 248.4V251.4M457.45 248.4H459.25" stroke="#333" stroke-width="0.35" fill="none"/>
<path d="M421.5 256.5H464.8" stroke="#aaa098" stroke-width="0.9" fill="none"/>
<path d="M421.5 213.7V256.5" stroke="#555" stroke-width="0.9" fill="none"/>
<path d="M420 213.7H421.5" stroke="#555" stroke-width="0.6"/>
<path d="M420 220.4H421.5" stroke="#555" stroke-width="0.6"/>
<path d="M420 226.4H421.5" stroke="#555" stroke-width="0.6"/>
<path d="M420 232.9H421.5" stroke="#555" stroke-width="0.6"/>
<path d="M420 240.5H421.5" stroke="#555" stroke-width="0.6"/>
<path d="M420 248.1H421.5" stroke="#555" stroke-width="0.6"/>
<path d="M420 256.2H421.5" stroke="#555" stroke-width="0.6"/>
<path d="M428.65 256.5V257.7" stroke="#444" stroke-width="0.5"/>
<path d="M438.55 256.5V257.7" stroke="#444" stroke-width="0.5"/>
<path d="M448.45 256.5V257.7" stroke="#444" stroke-width="0.5"/>
<path d="M458.35 256.5V257.7" stroke="#444" stroke-width="0.5"/>
<rect x="420.5" y="234.35" width="2" height="1.2" fill="#fff"/>
<path d="M420.6 234.75L422.4 233.75M420.6 236.15L422.4 235.15" stroke="#555" stroke-width="0.4"/>
<text x="419.7" y="215.35" class="tl">70</text>
<text x="419.7" y="222.05" class="tl">100</text>
<text x="419.7" y="228.05" class="tl">80</text>
<text x="419.7" y="234.55" class="tl">60</text>
<text x="419.7" y="242.15" class="tl">4</text>
<text x="419.7" y="249.75" class="tl">2</text>
<text x="419.7" y="257.85" class="tl">0</text>
<text x="428.65" y="261.9" class="xl">0h</text>
<text x="438.55" y="261.9" class="xl">3h</text>
<text x="448.45" y="261.9" class="xl">12h</text>
<text x="458.35" y="261.9" class="xl">24h</text>
<text x="428.65" y="250.8" class="lt">d</text>
<text x="438.55" y="221" class="lt">a</text>
<text x="448.45" y="237.3" class="lt">b</text>
<text x="458.35" y="247.6" class="lt">c</text>
<text x="445.1" y="215.5" class="ti">MdEMF1.1</text>
<text transform="translate(412.05 235.45) rotate(-90)" class="yl">Relative expression level</text>
<rect x="490.4" y="245.9" width="6.5" height="10.3" fill="#fc7a7e"/>
<rect x="500.3" y="229.8" width="6.5" height="26.4" fill="#fc7a7e"/>
<rect x="510.2" y="230.2" width="6.5" height="26" fill="#fc7a7e"/>
<rect x="520.1" y="233.8" width="6.5" height="22.4" fill="#fc7a7e"/>
<path d="M493.65 245.3V246.5M492.75 245.3H494.55" stroke="#333" stroke-width="0.35" fill="none"/>
<path d="M503.55 222.4V237.2M502.65 222.4H504.45" stroke="#333" stroke-width="0.35" fill="none"/>
<path d="M513.45 226.4V234M512.55 226.4H514.35" stroke="#333" stroke-width="0.35" fill="none"/>
<path d="M523.35 230.4V237.2M522.45 230.4H524.25" stroke="#333" stroke-width="0.35" fill="none"/>
<path d="M487.5 256.5H529.8" stroke="#aaa098" stroke-width="0.9" fill="none"/>
<path d="M487.5 213.7V256.5" stroke="#555" stroke-width="0.9" fill="none"/>
<path d="M486 213.7H487.5" stroke="#555" stroke-width="0.6"/>
<path d="M486 224.32H487.5" stroke="#555" stroke-width="0.6"/>
<path d="M486 234.95H487.5" stroke="#555" stroke-width="0.6"/>
<path d="M486 245.57H487.5" stroke="#555" stroke-width="0.6"/>
<path d="M486 256.2H487.5" stroke="#555" stroke-width="0.6"/>
<path d="M493.65 256.5V257.7" stroke="#444" stroke-width="0.5"/>
<path d="M503.55 256.5V257.7" stroke="#444" stroke-width="0.5"/>
<path d="M513.45 256.5V257.7" stroke="#444" stroke-width="0.5"/>
<path d="M523.35 256.5V257.7" stroke="#444" stroke-width="0.5"/>
<text x="485" y="215.35" class="tl">4</text>
<text x="485" y="225.97" class="tl">3</text>
<text x="485" y="236.6" class="tl">2</text>
<text x="485" y="247.22" class="tl">1</text>
<text x="485" y="257.85" class="tl">0</text>
<text x="493.65" y="261.9" class="xl">0h</text>
<text x="503.55" y="261.9" class="xl">3h</text>
<text x="513.45" y="261.9" class="xl">12h</text>
<text x="523.35" y="261.9" class="xl">24h</text>
<text x="493.65" y="244.5" class="lt">b</text>
<text x="503.55" y="221.6" class="lt">a</text>
<text x="513.45" y="225.6" class="lt">a</text>
<text x="523.35" y="229.6" class="lt">a</text>
<text x="509.2" y="215.5" class="ti">MdEMF2</text>
<text transform="translate(480.85 235.45) rotate(-90)" class="yl">Relative expression level</text>
<rect x="291.1" y="310" width="6.5" height="5.1" fill="#fc7a7e"/>
<rect x="301" y="283.4" width="6.5" height="31.7" fill="#fc7a7e"/>
<rect x="310.9" y="301.5" width="6.5" height="13.6" fill="#fc7a7e"/>
<rect x="320.8" y="305.9" width="6.5" height="9.2" fill="#fc7a7e"/>
<rect x="300.7" y="292.1" width="7.1" height="3.4" fill="#fff"/>
<path d="M294.35 309.4V310.6M293.45 309.4H295.25" stroke="#333" stroke-width="0.35" fill="none"/>
<path d="M304.25 277.4V289.4M303.35 277.4H305.15" stroke="#333" stroke-width="0.35" fill="none"/>
<path d="M314.15 299.5V303.5M313.25 299.5H315.05" stroke="#333" stroke-width="0.35" fill="none"/>
<path d="M324.05 304.4V307.4M323.15 304.4H324.95" stroke="#333" stroke-width="0.35" fill="none"/>
<path d="M287.5 315.5H330.5" stroke="#aaa098" stroke-width="0.9" fill="none"/>
<path d="M287.5 272.4V315.5" stroke="#555" stroke-width="0.9" fill="none"/>
<path d="M286 272.4H287.5" stroke="#555" stroke-width="0.6"/>
<path d="M286 277.4H287.5" stroke="#555" stroke-width="0.6"/>
<path d="M286 281.4H287.5" stroke="#555" stroke-width="0.6"/>
<path d="M286 286.1H287.5" stroke="#555" stroke-width="0.6"/>
<path d="M286 291.4H287.5" stroke="#555" stroke-width="0.6"/>
<path d="M286 295.5H287.5" stroke="#555" stroke-width="0.6"/>
<path d="M286 299.4H287.5" stroke="#555" stroke-width="0.6"/>
<path d="M286 303.3H287.5" stroke="#555" stroke-width="0.6"/>
<path d="M286 307.2H287.5" stroke="#555" stroke-width="0.6"/>
<path d="M286 311.1H287.5" stroke="#555" stroke-width="0.6"/>
<path d="M286 315.1H287.5" stroke="#555" stroke-width="0.6"/>
<path d="M294.35 315.5V316.7" stroke="#444" stroke-width="0.5"/>
<path d="M304.25 315.5V316.7" stroke="#444" stroke-width="0.5"/>
<path d="M314.15 315.5V316.7" stroke="#444" stroke-width="0.5"/>
<path d="M324.05 315.5V316.7" stroke="#444" stroke-width="0.5"/>
<rect x="286.5" y="293.2" width="2" height="1.2" fill="#fff"/>
<path d="M286.6 293.6L288.4 292.6M286.6 295L288.4 294" stroke="#555" stroke-width="0.4"/>
<text x="285.7" y="274.05" class="tl">60</text>
<text x="285.7" y="279.05" class="tl">50</text>
<text x="285.7" y="283.05" class="tl">40</text>
<text x="285.7" y="287.75" class="tl">30</text>
<text x="285.7" y="293.05" class="tl">20</text>
<text x="285.7" y="297.15" class="tl">5</text>
<text x="285.7" y="301.05" class="tl">4</text>
<text x="285.7" y="304.95" class="tl">3</text>
<text x="285.7" y="308.85" class="tl">2</text>
<text x="285.7" y="312.75" class="tl">1</text>
<text x="285.7" y="316.75" class="tl">0</text>
<text x="294.35" y="320.8" class="xl">0h</text>
<text x="304.25" y="320.8" class="xl">3h</text>
<text x="314.15" y="320.8" class="xl">12h</text>
<text x="324.05" y="320.8" class="xl">24h</text>
<text x="294.35" y="308.6" class="lt">d</text>
<text x="304.25" y="276.6" class="lt">a</text>
<text x="314.15" y="298.7" class="lt">b</text>
<text x="324.05" y="303.6" class="lt">c</text>
<text x="311.1" y="274.2" class="ti">MdFIE.2</text>
<text transform="translate(279.8 294.25) rotate(-90)" class="yl">Relative expression level</text>
<rect x="358.4" y="313.3" width="6.5" height="1.8" fill="#fc7a7e"/>
<rect x="368.3" y="281.4" width="6.5" height="33.7" fill="#fc7a7e"/>
<rect x="378.2" y="302.6" width="6.5" height="12.5" fill="#fc7a7e"/>
<rect x="388.1" y="308.2" width="6.5" height="6.9" fill="#fc7a7e"/>
<rect x="368" y="292.4" width="7.1" height="3.1" fill="#fff"/>
<path d="M361.65 312.9V313.7M360.75 312.9H362.55" stroke="#333" stroke-width="0.35" fill="none"/>
<path d="M371.55 274V288.8M370.65 274H372.45" stroke="#333" stroke-width="0.35" fill="none"/>
<path d="M381.45 301.1V304.1M380.55 301.1H382.35" stroke="#333" stroke-width="0.35" fill="none"/>
<path d="M391.35 306.7V309.7M390.45 306.7H392.25" stroke="#333" stroke-width="0.35" fill="none"/>
<path d="M354.5 315.5H397.8" stroke="#aaa098" stroke-width="0.9" fill="none"/>
<path d="M354.5 272.4V315.5" stroke="#555" stroke-width="0.9" fill="none"/>
<path d="M353 272.4H354.5" stroke="#555" stroke-width="0.6"/>
<path d="M353 279H354.5" stroke="#555" stroke-width="0.6"/>
<path d="M353 285.4H354.5" stroke="#555" stroke-width="0.6"/>
<path d="M353 291.6H354.5" stroke="#555" stroke-width="0.6"/>
<path d="M353 295.5H354.5" stroke="#555" stroke-width="0.6"/>
<path d="M353 305.3H354.5" stroke="#555" stroke-width="0.6"/>
<path d="M353 315.1H354.5" stroke="#555" stroke-width="0.6"/>
<path d="M361.65 315.5V316.7" stroke="#444" stroke-width="0.5"/>
<path d="M371.55 315.5V316.7" stroke="#444" stroke-width="0.5"/>
<path d="M381.45 315.5V316.7" stroke="#444" stroke-width="0.5"/>
<path d="M391.35 315.5V316.7" stroke="#444" stroke-width="0.5"/>
<rect x="353.5" y="293.35" width="2" height="1.2" fill="#fff"/>
<path d="M353.6 293.75L355.4 292.75M353.6 295.15L355.4 294.15" stroke="#555" stroke-width="0.4"/>
<text x="352.7" y="274.05" class="tl">140</text>
<text x="352.7" y="280.65" class="tl">120</text>
<text x="352.7" y="287.05" class="tl">100</text>
<text x="352.7" y="293.25" class="tl">80</text>
<text x="352.7" y="297.15" class="tl">10</text>
<text x="352.7" y="306.95" class="tl">5</text>
<text x="352.7" y="316.75" class="tl">0</text>
<text x="361.65" y="320.8" class="xl">0h</text>
<text x="371.55" y="320.8" class="xl">3h</text>
<text x="381.45" y="320.8" class="xl">12h</text>
<text x="391.35" y="320.8" class="xl">24h</text>
<text x="361.65" y="312.1" class="lt">d</text>
<text x="371.55" y="273.2" class="lt">a</text>
<text x="381.45" y="300.3" class="lt">b</text>
<text x="391.35" y="305.9" class="lt">c</text>
<text x="377.9" y="274.2" class="ti">MdMEA.1</text>
<text transform="translate(345.05 294.25) rotate(-90)" class="yl">Relative expression level</text>
<rect x="425.7" y="312.9" width="6.5" height="2.2" fill="#fc7a7e"/>
<rect x="435.6" y="283.1" width="6.5" height="32" fill="#fc7a7e"/>
<rect x="445.5" y="301.9" width="6.5" height="13.2" fill="#fc7a7e"/>
<rect x="455.4" y="312" width="6.5" height="3.1" fill="#fc7a7e"/>
<rect x="435.3" y="292.1" width="7.1" height="3.4" fill="#fff"/>
<path d="M428.95 312.4V313.4M428.05 312.4H429.85" stroke="#333" stroke-width="0.35" fill="none"/>
<path d="M438.85 279.1V287.1M437.95 279.1H439.75" stroke="#333" stroke-width="0.35" fill="none"/>
<path d="M448.75 299.9V303.9M447.85 299.9H449.65" stroke="#333" stroke-width="0.35" fill="none"/>
<path d="M458.65 311V313M457.75 311H459.55" stroke="#333" stroke-width="0.35" fill="none"/>
<path d="M421.5 315.5H465.1" stroke="#aaa098" stroke-width="0.9" fill="none"/>
<path d="M421.5 272.4V315.5" stroke="#555" stroke-width="0.9" fill="none"/>
<path d="M420 272.4H421.5" stroke="#555" stroke-width="0.6"/>
<path d="M420 278.7H421.5" stroke="#555" stroke-width="0.6"/>
<path d="M420 285.2H421.5" stroke="#555" stroke-width="0.6"/>
<path d="M420 291.6H421.5" stroke="#555" stroke-width="0.6"/>
<path d="M420 295.5H421.5" stroke="#555" stroke-width="0.6"/>
<path d="M420 300.4H421.5" stroke="#555" stroke-width="0.6"/>
<path d="M420 305.3H421.5" stroke="#555" stroke-width="0.6"/>
<path d="M420 310.2H421.5" stroke="#555" stroke-width="0.6"/>
<path d="M420 315.1H421.5" stroke="#555" stroke-width="0.6"/>
<path d="M428.95 315.5V316.7" stroke="#444" stroke-width="0.5"/>
<path d="M438.85 315.5V316.7" stroke="#444" stroke-width="0.5"/>
<path d="M448.75 315.5V316.7" stroke="#444" stroke-width="0.5"/>
<path d="M458.65 315.5V316.7" stroke="#444" stroke-width="0.5"/>
<rect x="420.5" y="293.2" width="2" height="1.2" fill="#fff"/>
<path d="M420.6 293.6L422.4 292.6M420.6 295L422.4 294" stroke="#555" stroke-width="0.4"/>
<text x="419.7" y="274.05" class="tl">30</text>
<text x="419.7" y="280.35" class="tl">25</text>
<text x="419.7" y="286.85" class="tl">20</text>
<text x="419.7" y="293.25" class="tl">15</text>
<text x="419.7" y="297.15" class="tl">8</text>
<text x="419.7" y="302.05" class="tl">6</text>
<text x="419.7" y="306.95" class="tl">4</text>
<text x="419.7" y="311.85" class="tl">2</text>
<text x="419.7" y="316.75" class="tl">0</text>
<text x="428.95" y="320.8" class="xl">0h</text>
<text x="438.85" y="320.8" class="xl">3h</text>
<text x="448.75" y="320.8" class="xl">12h</text>
<text x="458.65" y="320.8" class="xl">24h</text>
<text x="428.95" y="311.6" class="lt">d</text>
<text x="438.85" y="278.3" class="lt">a</text>
<text x="448.75" y="299.1" class="lt">b</text>
<text x="458.65" y="310.2" class="lt">c</text>
<text x="445.1" y="274.2" class="ti">MdBMI1.4</text>
<text transform="translate(413.8 294.25) rotate(-90)" class="yl">Relative expression level</text>
<rect x="490.4" y="310.9" width="6.5" height="4.7" fill="#fc7a7e"/>
<rect x="500.3" y="285.4" width="6.5" height="30.2" fill="#fc7a7e"/>
<rect x="510.2" y="300.8" width="6.5" height="14.8" fill="#fc7a7e"/>
<rect x="520.1" y="304.9" width="6.5" height="10.7" fill="#fc7a7e"/>
<rect x="500" y="292.8" width="7.1" height="3.3" fill="#fff"/>
<path d="M493.65 310.4V311.4M492.75 310.4H494.55" stroke="#333" stroke-width="0.35" fill="none"/>
<path d="M503.55 278V292.8M502.65 278H504.45" stroke="#333" stroke-width="0.35" fill="none"/>
<path d="M513.45 296.8V304.8M512.55 296.8H514.35" stroke="#333" stroke-width="0.35" fill="none"/>
<path d="M523.35 299.9V309.9M522.45 299.9H524.25" stroke="#333" stroke-width="0.35" fill="none"/>
<path d="M487.5 315.5H529.8" stroke="#aaa098" stroke-width="0.9" fill="none"/>
<path d="M487.5 273.1V315.5" stroke="#555" stroke-width="0.9" fill="none"/>
<path d="M486 273.1H487.5" stroke="#555" stroke-width="0.6"/>
<path d="M486 282.1H487.5" stroke="#555" stroke-width="0.6"/>
<path d="M486 291.1H487.5" stroke="#555" stroke-width="0.6"/>
<path d="M486 296.1H487.5" stroke="#555" stroke-width="0.6"/>
<path d="M486 301H487.5" stroke="#555" stroke-width="0.6"/>
<path d="M486 305.8H487.5" stroke="#555" stroke-width="0.6"/>
<path d="M486 310.7H487.5" stroke="#555" stroke-width="0.6"/>
<path d="M486 315.6H487.5" stroke="#555" stroke-width="0.6"/>
<path d="M493.65 315.5V316.7" stroke="#444" stroke-width="0.5"/>
<path d="M503.55 315.5V316.7" stroke="#444" stroke-width="0.5"/>
<path d="M513.45 315.5V316.7" stroke="#444" stroke-width="0.5"/>
<path d="M523.35 315.5V316.7" stroke="#444" stroke-width="0.5"/>
<rect x="486.5" y="293.85" width="2" height="1.2" fill="#fff"/>
<path d="M486.6 294.25L488.4 293.25M486.6 295.65L488.4 294.65" stroke="#555" stroke-width="0.4"/>
<text x="485" y="274.75" class="tl">150</text>
<text x="485" y="283.75" class="tl">100</text>
<text x="485" y="292.75" class="tl">50</text>
<text x="485" y="297.75" class="tl">4</text>
<text x="485" y="302.65" class="tl">3</text>
<text x="485" y="307.45" class="tl">2</text>
<text x="485" y="312.35" class="tl">1</text>
<text x="485" y="317.25" class="tl">0</text>
<text x="493.65" y="321.3" class="xl">0h</text>
<text x="503.55" y="321.3" class="xl">3h</text>
<text x="513.45" y="321.3" class="xl">12h</text>
<text x="523.35" y="321.3" class="xl">24h</text>
<text x="493.65" y="309.6" class="lt">c</text>
<text x="503.55" y="277.2" class="lt">a</text>
<text x="513.45" y="296" class="lt">b</text>
<text x="523.35" y="299.1" class="lt">b</text>
<text x="510.5" y="274.9" class="ti">MdRING1.4</text>
<text transform="translate(477.35 294.85) rotate(-90)" class="yl">Relative expression level</text>
<rect x="291.7" y="366.9" width="6.5" height="7.3" fill="#fc7a7e"/>
<rect x="301.6" y="344.7" width="6.5" height="29.5" fill="#fc7a7e"/>
<rect x="311.5" y="352.2" width="6.5" height="22" fill="#fc7a7e"/>
<rect x="321.4" y="362.5" width="6.5" height="11.7" fill="#fc7a7e"/>
<path d="M294.95 366.5V367.3M294.05 366.5H295.85" stroke="#333" stroke-width="0.35" fill="none"/>
<path d="M304.85 335.7V353.7M303.95 335.7H305.75" stroke="#333" stroke-width="0.35" fill="none"/>
<path d="M314.75 345.8V358.6M313.85 345.8H315.65" stroke="#333" stroke-width="0.35" fill="none"/>
<path d="M324.65 357.2V367.8M323.75 357.2H325.55" stroke="#333" stroke-width="0.35" fill="none"/>
<path d="M288.5 374.5H331.1" stroke="#aaa098" stroke-width="0.9" fill="none"/>
<path d="M288.5 331.6V374.5" stroke="#555" stroke-width="0.9" fill="none"/>
<path d="M287 331.6H288.5" stroke="#555" stroke-width="0.6"/>
<path d="M287 345.8H288.5" stroke="#555" stroke-width="0.6"/>
<path d="M287 360H288.5" stroke="#555" stroke-width="0.6"/>
<path d="M287 374.2H288.5" stroke="#555" stroke-width="0.6"/>
<path d="M294.95 374.5V375.7" stroke="#444" stroke-width="0.5"/>
<path d="M304.85 374.5V375.7" stroke="#444" stroke-width="0.5"/>
<path d="M314.75 374.5V375.7" stroke="#444" stroke-width="0.5"/>
<path d="M324.65 374.5V375.7" stroke="#444" stroke-width="0.5"/>
<text x="286.4" y="333.25" class="tl">6</text>
<text x="286.4" y="347.45" class="tl">4</text>
<text x="286.4" y="361.65" class="tl">2</text>
<text x="286.4" y="375.85" class="tl">0</text>
<text x="294.95" y="379.9" class="xl">0h</text>
<text x="304.85" y="379.9" class="xl">3h</text>
<text x="314.75" y="379.9" class="xl">12h</text>
<text x="324.65" y="379.9" class="xl">24h</text>
<text x="294.95" y="365.7" class="lt">c</text>
<text x="304.85" y="334.9" class="lt">a</text>
<text x="314.75" y="345" class="lt">a</text>
<text x="324.65" y="356.4" class="lt">b</text>
<text x="309.1" y="333.4" class="ti">MdRING1B.1</text>
<text transform="translate(282.25 353.4) rotate(-90)" class="yl">Relative expression level</text>
<rect x="358.7" y="365.9" width="6.5" height="8.3" fill="#fc7a7e"/>
<rect x="368.6" y="374.1" width="6.5" height="0.1" fill="#fc7a7e"/>
<rect x="378.5" y="347.8" width="6.5" height="26.4" fill="#fc7a7e"/>
<rect x="388.4" y="360.2" width="6.5" height="14" fill="#fc7a7e"/>
<path d="M361.95 365.4V366.4M361.05 365.4H362.85" stroke="#333" stroke-width="0.35" fill="none"/>
<path d="M381.75 339.7V355.9M380.85 339.7H382.65" stroke="#333" stroke-width="0.35" fill="none"/>
<path d="M391.65 355.8V364.6M390.75 355.8H392.55" stroke="#333" stroke-width="0.35" fill="none"/>
<path d="M355.5 374.5H398.1" stroke="#aaa098" stroke-width="0.9" fill="none"/>
<path d="M355.5 331.6V374.5" stroke="#555" stroke-width="0.9" fill="none"/>
<path d="M354 331.6H355.5" stroke="#555" stroke-width="0.6"/>
<path d="M354 340.12H355.5" stroke="#555" stroke-width="0.6"/>
<path d="M354 348.64H355.5" stroke="#555" stroke-width="0.6"/>
<path d="M354 357.16H355.5" stroke="#555" stroke-width="0.6"/>
<path d="M354 365.68H355.5" stroke="#555" stroke-width="0.6"/>
<path d="M354 374.2H355.5" stroke="#555" stroke-width="0.6"/>
<path d="M361.95 374.5V375.7" stroke="#444" stroke-width="0.5"/>
<path d="M371.85 374.5V375.7" stroke="#444" stroke-width="0.5"/>
<path d="M381.75 374.5V375.7" stroke="#444" stroke-width="0.5"/>
<path d="M391.65 374.5V375.7" stroke="#444" stroke-width="0.5"/>
<text x="353.5" y="333.25" class="tl">5</text>
<text x="353.5" y="341.77" class="tl">4</text>
<text x="353.5" y="350.29" class="tl">3</text>
<text x="353.5" y="358.81" class="tl">2</text>
<text x="353.5" y="367.33" class="tl">1</text>
<text x="353.5" y="375.85" class="tl">0</text>
<text x="361.95" y="379.9" class="xl">0h</text>
<text x="371.85" y="379.9" class="xl">3h</text>
<text x="381.75" y="379.9" class="xl">12h</text>
<text x="391.65" y="379.9" class="xl">24h</text>
<text x="361.95" y="364.6" class="lt">c</text>
<text x="371.85" y="373.2" class="lt">d</text>
<text x="381.75" y="338.9" class="lt">a</text>
<text x="391.65" y="355" class="lt">b</text>
<text x="378.2" y="333.4" class="ti">MdSWN</text>
<text transform="translate(349.35 353.4) rotate(-90)" class="yl">Relative expression level</text>
<rect x="425.8" y="364.3" width="6.5" height="9.9" fill="#fc7a7e"/>
<rect x="435.7" y="340.8" width="6.5" height="33.4" fill="#fc7a7e"/>
<rect x="445.6" y="363.2" width="6.5" height="11" fill="#fc7a7e"/>
<rect x="455.5" y="365.6" width="6.5" height="8.6" fill="#fc7a7e"/>
<rect x="435.4" y="351.4" width="7.1" height="3.1" fill="#fff"/>
<path d="M429.05 363.9V364.7M428.15 363.9H429.95" stroke="#333" stroke-width="0.35" fill="none"/>
<path d="M438.95 331V350.6M438.05 331H439.85" stroke="#333" stroke-width="0.35" fill="none"/>
<path d="M448.85 360.7V365.7M447.95 360.7H449.75" stroke="#333" stroke-width="0.35" fill="none"/>
<path d="M458.75 364.1V367.1M457.85 364.1H459.65" stroke="#333" stroke-width="0.35" fill="none"/>
<path d="M422.5 374.5H465.2" stroke="#aaa098" stroke-width="0.9" fill="none"/>
<path d="M422.5 331.4V374.5" stroke="#555" stroke-width="0.9" fill="none"/>
<path d="M421 331.4H422.5" stroke="#555" stroke-width="0.6"/>
<path d="M421 336.1H422.5" stroke="#555" stroke-width="0.6"/>
<path d="M421 340.4H422.5" stroke="#555" stroke-width="0.6"/>
<path d="M421 344.7H422.5" stroke="#555" stroke-width="0.6"/>
<path d="M421 349.1H422.5" stroke="#555" stroke-width="0.6"/>
<path d="M421 354.5H422.5" stroke="#555" stroke-width="0.6"/>
<path d="M421 359.4H422.5" stroke="#555" stroke-width="0.6"/>
<path d="M421 364.3H422.5" stroke="#555" stroke-width="0.6"/>
<path d="M421 369.2H422.5" stroke="#555" stroke-width="0.6"/>
<path d="M421 374.2H422.5" stroke="#555" stroke-width="0.6"/>
<path d="M429.05 374.5V375.7" stroke="#444" stroke-width="0.5"/>
<path d="M438.95 374.5V375.7" stroke="#444" stroke-width="0.5"/>
<path d="M448.85 374.5V375.7" stroke="#444" stroke-width="0.5"/>
<path d="M458.75 374.5V375.7" stroke="#444" stroke-width="0.5"/>
<rect x="421.5" y="352.35" width="2" height="1.2" fill="#fff"/>
<path d="M421.6 352.75L423.4 351.75M421.6 354.15L423.4 353.15" stroke="#555" stroke-width="0.4"/>
<text x="420" y="333.05" class="tl">100</text>
<text x="420" y="337.75" class="tl">80</text>
<text x="420" y="342.05" class="tl">60</text>
<text x="420" y="346.35" class="tl">40</text>
<text x="420" y="350.75" class="tl">20</text>
<text x="420" y="356.15" class="tl">2.0</text>
<text x="420" y="361.05" class="tl">1.5</text>
<text x="420" y="365.95" class="tl">1.0</text>
<text x="420" y="370.85" class="tl">0.5</text>
<text x="420" y="375.85" class="tl">0.0</text>
<text x="429.05" y="379.9" class="xl">0h</text>
<text x="438.95" y="379.9" class="xl">3h</text>
<text x="448.85" y="379.9" class="xl">12h</text>
<text x="458.75" y="379.9" class="xl">24h</text>
<text x="429.05" y="363.1" class="lt">b</text>
<text x="438.95" y="330.2" class="lt">a</text>
<text x="448.85" y="359.9" class="lt">bc</text>
<text x="458.75" y="363.3" class="lt">c</text>
<text x="450" y="333.2" class="ti">MdVRN1.19</text>
<text transform="translate(412.35 353.3) rotate(-90)" class="yl">Relative expression level</text>
<rect x="490.7" y="363.9" width="6.5" height="10.3" fill="#fc7a7e"/>
<rect x="500.6" y="373" width="6.5" height="1.2" fill="#fc7a7e"/>
<rect x="510.5" y="338.8" width="6.5" height="35.4" fill="#fc7a7e"/>
<rect x="520.4" y="357.6" width="6.5" height="16.6" fill="#fc7a7e"/>
<path d="M493.95 363.4V364.4M493.05 363.4H494.85" stroke="#333" stroke-width="0.35" fill="none"/>
<path d="M503.85 372.7V373.3M502.95 372.7H504.75" stroke="#333" stroke-width="0.35" fill="none"/>
<path d="M513.75 337.8V339.8M512.85 337.8H514.65" stroke="#333" stroke-width="0.35" fill="none"/>
<path d="M523.65 356.6V358.6M522.75 356.6H524.55" stroke="#333" stroke-width="0.35" fill="none"/>
<path d="M487.5 374.5H530.1" stroke="#aaa098" stroke-width="0.9" fill="none"/>
<path d="M487.5 331.6V374.5" stroke="#555" stroke-width="0.9" fill="none"/>
<path d="M486 331.6H487.5" stroke="#555" stroke-width="0.6"/>
<path d="M486 342.25H487.5" stroke="#555" stroke-width="0.6"/>
<path d="M486 352.9H487.5" stroke="#555" stroke-width="0.6"/>
<path d="M486 363.55H487.5" stroke="#555" stroke-width="0.6"/>
<path d="M486 374.2H487.5" stroke="#555" stroke-width="0.6"/>
<path d="M493.95 374.5V375.7" stroke="#444" stroke-width="0.5"/>
<path d="M503.85 374.5V375.7" stroke="#444" stroke-width="0.5"/>
<path d="M513.75 374.5V375.7" stroke="#444" stroke-width="0.5"/>
<path d="M523.65 374.5V375.7" stroke="#444" stroke-width="0.5"/>
<text x="485" y="333.25" class="tl">4</text>
<text x="485" y="343.9" class="tl">3</text>
<text x="485" y="354.55" class="tl">2</text>
<text x="485" y="365.2" class="tl">1</text>
<text x="485" y="375.85" class="tl">0</text>
<text x="493.95" y="379.9" class="xl">0h</text>
<text x="503.85" y="379.9" class="xl">3h</text>
<text x="513.75" y="379.9" class="xl">12h</text>
<text x="523.65" y="379.9" class="xl">24h</text>
<text x="493.95" y="362.6" class="lt">c</text>
<text x="503.85" y="371.9" class="lt">d</text>
<text x="513.75" y="337" class="lt">a</text>
<text x="523.65" y="355.8" class="lt">b</text>
<text x="509.5" y="333.4" class="ti">MdVRN2</text>
<text transform="translate(480.85 353.4) rotate(-90)" class="yl">Relative expression level</text>
</svg>
</body></html>
